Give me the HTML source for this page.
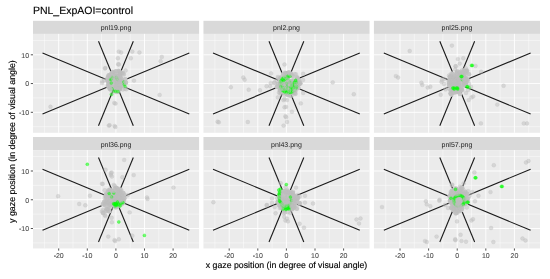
<!DOCTYPE html>
<html><head><meta charset="utf-8"><style>html,body{margin:0;padding:0;background:#fff;width:550px;height:279px;overflow:hidden}svg{display:block;filter:blur(0.3px)}.g{fill:#BEBEBE;fill-opacity:0.47;stroke:#BEBEBE;stroke-opacity:0.47;stroke-width:0.56px}.n{fill:#00FF00;fill-opacity:0.55;stroke:#00FF00;stroke-opacity:0.55;stroke-width:0.56px}.m{fill:#00FF00;fill-opacity:0.42;stroke:#00FF00;stroke-opacity:0.42;stroke-width:0.56px}.b{fill:#D0D0D0}</style></head>
<body><svg width="550" height="279" viewBox="0 0 550 279" font-family="Liberation Sans, Arial, sans-serif" text-rendering="geometricPrecision"><rect x="0" y="0" width="550" height="279" fill="#fff"/>
<text x="32.9" y="14.3" font-size="10.5" fill="#000" stroke="#000" stroke-width="0.12">PNL_ExpAOI=control</text>
<rect x="33" y="20.8" width="166.09" height="13.1" fill="#D9D9D9"/>
<text x="116.05" y="30.3" font-size="7" fill="#1A1A1A" text-anchor="middle">pnl19.png</text>
<rect x="33" y="33.9" width="166.09" height="98.9" fill="#EBEBEB"/>
<line x1="44.4" y1="33.9" x2="44.4" y2="132.8" stroke="#fff" stroke-width="0.45"/>
<line x1="73" y1="33.9" x2="73" y2="132.8" stroke="#fff" stroke-width="0.45"/>
<line x1="101.6" y1="33.9" x2="101.6" y2="132.8" stroke="#fff" stroke-width="0.45"/>
<line x1="130.2" y1="33.9" x2="130.2" y2="132.8" stroke="#fff" stroke-width="0.45"/>
<line x1="158.8" y1="33.9" x2="158.8" y2="132.8" stroke="#fff" stroke-width="0.45"/>
<line x1="187.4" y1="33.9" x2="187.4" y2="132.8" stroke="#fff" stroke-width="0.45"/>
<line x1="33" y1="126.67" x2="199.09" y2="126.67" stroke="#fff" stroke-width="0.45"/>
<line x1="33" y1="97.92" x2="199.09" y2="97.92" stroke="#fff" stroke-width="0.45"/>
<line x1="33" y1="69.17" x2="199.09" y2="69.17" stroke="#fff" stroke-width="0.45"/>
<line x1="33" y1="40.42" x2="199.09" y2="40.42" stroke="#fff" stroke-width="0.45"/>
<line x1="58.7" y1="33.9" x2="58.7" y2="132.8" stroke="#fff" stroke-width="0.9"/>
<line x1="87.3" y1="33.9" x2="87.3" y2="132.8" stroke="#fff" stroke-width="0.9"/>
<line x1="115.9" y1="33.9" x2="115.9" y2="132.8" stroke="#fff" stroke-width="0.9"/>
<line x1="144.5" y1="33.9" x2="144.5" y2="132.8" stroke="#fff" stroke-width="0.9"/>
<line x1="173.1" y1="33.9" x2="173.1" y2="132.8" stroke="#fff" stroke-width="0.9"/>
<line x1="33" y1="112.3" x2="199.09" y2="112.3" stroke="#fff" stroke-width="0.9"/>
<line x1="33" y1="83.55" x2="199.09" y2="83.55" stroke="#fff" stroke-width="0.9"/>
<line x1="33" y1="54.8" x2="199.09" y2="54.8" stroke="#fff" stroke-width="0.9"/>
<line x1="42.51" y1="114.11" x2="189.29" y2="52.99" stroke="#1A1A1A" stroke-width="1.1"/>
<line x1="42.51" y1="52.99" x2="189.29" y2="114.11" stroke="#1A1A1A" stroke-width="1.1"/>
<line x1="98.49" y1="125.81" x2="133.31" y2="41.29" stroke="#1A1A1A" stroke-width="1.1"/>
<line x1="98.49" y1="41.29" x2="133.31" y2="125.81" stroke="#1A1A1A" stroke-width="1.1"/>
<circle class="b" cx="116.22" cy="91.11" r="2.23"/>
<circle class="b" cx="109.81" cy="83.92" r="2.23"/>
<circle class="b" cx="111.39" cy="73.6" r="2.23"/>
<circle class="b" cx="119.52" cy="82.1" r="2.23"/>
<circle class="b" cx="108.16" cy="85.62" r="2.23"/>
<circle class="b" cx="116.53" cy="81.14" r="2.23"/>
<circle class="b" cx="115.31" cy="74.28" r="2.23"/>
<circle class="b" cx="121" cy="79.73" r="2.23"/>
<circle class="b" cx="117.51" cy="80.7" r="2.23"/>
<circle class="b" cx="114.96" cy="81.05" r="2.23"/>
<circle class="b" cx="117.59" cy="87.13" r="2.23"/>
<circle class="b" cx="116.8" cy="83.34" r="2.23"/>
<circle class="b" cx="109.88" cy="81.69" r="2.23"/>
<circle class="b" cx="116.88" cy="85.46" r="2.23"/>
<circle class="b" cx="111.97" cy="82.79" r="2.23"/>
<circle class="b" cx="121.83" cy="82.3" r="2.23"/>
<circle class="b" cx="119.83" cy="75.52" r="2.23"/>
<circle class="b" cx="119.64" cy="89.61" r="2.23"/>
<circle class="b" cx="119.76" cy="84.91" r="2.23"/>
<circle class="b" cx="114.45" cy="72.43" r="2.23"/>
<circle class="b" cx="120.09" cy="74.32" r="2.23"/>
<circle class="b" cx="111.81" cy="78.33" r="2.23"/>
<circle class="b" cx="121.84" cy="73" r="2.23"/>
<circle class="b" cx="109.84" cy="81.26" r="2.23"/>
<circle class="b" cx="116.58" cy="83.54" r="2.23"/>
<circle class="b" cx="108.83" cy="86.54" r="2.23"/>
<circle class="b" cx="119.43" cy="87.64" r="2.23"/>
<circle class="b" cx="112.67" cy="73.3" r="2.23"/>
<circle class="b" cx="110.82" cy="84.02" r="2.23"/>
<circle class="b" cx="107.83" cy="80.99" r="2.23"/>
<circle class="b" cx="110.85" cy="86.43" r="2.23"/>
<circle class="b" cx="123.38" cy="82.92" r="2.23"/>
<circle class="b" cx="124.01" cy="83.81" r="2.23"/>
<circle class="b" cx="119.51" cy="87.55" r="2.23"/>
<circle class="b" cx="107.99" cy="79.12" r="2.23"/>
<circle class="b" cx="117.54" cy="91.64" r="2.23"/>
<circle class="b" cx="109.15" cy="83.62" r="2.23"/>
<circle class="b" cx="111.54" cy="79.8" r="2.23"/>
<circle class="b" cx="117.02" cy="81.34" r="2.23"/>
<circle class="b" cx="120.29" cy="72.7" r="2.23"/>
<circle class="b" cx="115.94" cy="71.16" r="2.23"/>
<circle class="b" cx="118.7" cy="75.3" r="2.23"/>
<circle class="b" cx="109.8" cy="85.19" r="2.23"/>
<circle class="b" cx="118.12" cy="79.6" r="2.23"/>
<circle class="b" cx="113.48" cy="79.94" r="2.23"/>
<circle class="b" cx="109.43" cy="82.24" r="2.23"/>
<circle class="b" cx="113.11" cy="86.91" r="2.23"/>
<circle class="b" cx="109.71" cy="79.66" r="2.23"/>
<circle class="b" cx="108.94" cy="83.74" r="2.23"/>
<circle class="b" cx="116.71" cy="83.32" r="2.23"/>
<circle class="b" cx="119.43" cy="88.04" r="2.23"/>
<circle class="b" cx="119.28" cy="71.76" r="2.23"/>
<circle class="b" cx="120.12" cy="72.52" r="2.23"/>
<circle class="b" cx="123.61" cy="86.01" r="2.23"/>
<circle class="b" cx="117.79" cy="81.63" r="2.23"/>
<circle class="b" cx="116.63" cy="77.33" r="2.23"/>
<circle class="b" cx="114.16" cy="78.93" r="2.23"/>
<circle class="b" cx="121.82" cy="84.23" r="2.23"/>
<circle class="b" cx="119.79" cy="87.18" r="2.23"/>
<circle class="b" cx="115.91" cy="85.96" r="2.23"/>
<circle class="b" cx="108.4" cy="84.11" r="2.23"/>
<circle class="b" cx="114.02" cy="87.11" r="2.23"/>
<circle class="b" cx="115.34" cy="82.61" r="2.23"/>
<circle class="b" cx="118.96" cy="88.1" r="2.23"/>
<circle class="b" cx="118.32" cy="89.1" r="2.23"/>
<circle class="b" cx="119.68" cy="73.69" r="2.23"/>
<circle class="b" cx="117.44" cy="81.64" r="2.23"/>
<circle class="b" cx="115.76" cy="77.37" r="2.23"/>
<circle class="b" cx="115.37" cy="77.27" r="2.23"/>
<circle class="b" cx="113.76" cy="75.29" r="2.23"/>
<circle class="b" cx="121.14" cy="80.71" r="2.23"/>
<circle class="b" cx="107.62" cy="80.48" r="2.23"/>
<circle class="b" cx="117.71" cy="89.34" r="2.23"/>
<circle class="b" cx="110.92" cy="78.33" r="2.23"/>
<circle class="b" cx="112.64" cy="76.93" r="2.23"/>
<circle class="b" cx="120.43" cy="83.17" r="2.23"/>
<circle class="b" cx="119.99" cy="76.77" r="2.23"/>
<circle class="b" cx="109.04" cy="86.27" r="2.23"/>
<circle class="b" cx="121.52" cy="81.79" r="2.23"/>
<circle class="b" cx="117.51" cy="80.44" r="2.23"/>
<circle class="b" cx="125.3" cy="79.16" r="2.23"/>
<circle class="b" cx="120.07" cy="88.82" r="2.23"/>
<circle class="b" cx="108.12" cy="80.99" r="2.23"/>
<circle class="b" cx="112.98" cy="87.05" r="2.23"/>
<circle class="b" cx="118.55" cy="89.42" r="2.23"/>
<circle class="b" cx="118.76" cy="88.3" r="2.23"/>
<circle class="b" cx="114.87" cy="78.43" r="2.23"/>
<circle class="b" cx="114.82" cy="87.7" r="2.23"/>
<circle class="b" cx="120.45" cy="76.97" r="2.23"/>
<circle class="b" cx="125.92" cy="82.68" r="2.23"/>
<circle class="b" cx="117.85" cy="86.17" r="2.23"/>
<circle class="b" cx="117.84" cy="87.73" r="2.23"/>
<circle class="b" cx="112.88" cy="71.96" r="2.23"/>
<circle class="b" cx="115.76" cy="76.23" r="2.23"/>
<circle class="b" cx="117.91" cy="84.3" r="2.23"/>
<circle class="b" cx="119.43" cy="79.48" r="2.23"/>
<circle class="b" cx="109.46" cy="75.86" r="2.23"/>
<circle class="b" cx="110.3" cy="88.94" r="2.23"/>
<circle class="b" cx="114.27" cy="85.35" r="2.23"/>
<circle class="b" cx="109.1" cy="75.27" r="2.23"/>
<circle class="b" cx="120.68" cy="86.73" r="2.23"/>
<circle class="b" cx="119.63" cy="82.36" r="2.23"/>
<circle class="b" cx="118.3" cy="79.28" r="2.23"/>
<circle class="b" cx="118.73" cy="71.47" r="2.23"/>
<circle class="b" cx="112.12" cy="77.25" r="2.23"/>
<circle class="b" cx="110.13" cy="88.25" r="2.23"/>
<circle class="b" cx="113.29" cy="79.82" r="2.23"/>
<circle class="b" cx="116.2" cy="84.63" r="2.23"/>
<circle class="b" cx="107.83" cy="77.41" r="2.23"/>
<circle class="b" cx="121.43" cy="78.74" r="2.23"/>
<circle class="b" cx="117.71" cy="75.86" r="2.23"/>
<circle class="b" cx="125.57" cy="82.28" r="2.23"/>
<circle class="b" cx="115.45" cy="79.38" r="2.23"/>
<circle class="g" cx="122.94" cy="89.47" r="1.95"/>
<circle class="g" cx="116.22" cy="91.11" r="1.95"/>
<circle class="g" cx="109.81" cy="83.92" r="1.95"/>
<circle class="g" cx="111.39" cy="73.6" r="1.95"/>
<circle class="g" cx="119.52" cy="82.1" r="1.95"/>
<circle class="g" cx="108.16" cy="85.62" r="1.95"/>
<circle class="g" cx="116.53" cy="81.14" r="1.95"/>
<circle class="g" cx="115.31" cy="74.28" r="1.95"/>
<circle class="g" cx="121" cy="79.73" r="1.95"/>
<circle class="g" cx="117.51" cy="80.7" r="1.95"/>
<circle class="g" cx="114.96" cy="81.05" r="1.95"/>
<circle class="g" cx="109.39" cy="88.74" r="1.95"/>
<circle class="g" cx="117.59" cy="87.13" r="1.95"/>
<circle class="g" cx="116.8" cy="83.34" r="1.95"/>
<circle class="g" cx="109.88" cy="81.69" r="1.95"/>
<circle class="g" cx="116.88" cy="85.46" r="1.95"/>
<circle class="g" cx="111.97" cy="82.79" r="1.95"/>
<circle class="g" cx="121.83" cy="82.3" r="1.95"/>
<circle class="g" cx="119.83" cy="75.52" r="1.95"/>
<circle class="g" cx="119.64" cy="89.61" r="1.95"/>
<circle class="g" cx="122.85" cy="73.05" r="1.95"/>
<circle class="g" cx="119.76" cy="84.91" r="1.95"/>
<circle class="g" cx="114.45" cy="72.43" r="1.95"/>
<circle class="g" cx="107.96" cy="86.5" r="1.95"/>
<circle class="g" cx="120.09" cy="74.32" r="1.95"/>
<circle class="g" cx="111.81" cy="78.33" r="1.95"/>
<circle class="g" cx="121.84" cy="73" r="1.95"/>
<circle class="g" cx="109.84" cy="81.26" r="1.95"/>
<circle class="g" cx="116.58" cy="83.54" r="1.95"/>
<circle class="g" cx="108.83" cy="86.54" r="1.95"/>
<circle class="g" cx="119.43" cy="87.64" r="1.95"/>
<circle class="g" cx="112.67" cy="73.3" r="1.95"/>
<circle class="g" cx="110.82" cy="84.02" r="1.95"/>
<circle class="g" cx="107.83" cy="80.99" r="1.95"/>
<circle class="g" cx="110.85" cy="86.43" r="1.95"/>
<circle class="g" cx="123.38" cy="82.92" r="1.95"/>
<circle class="g" cx="124.01" cy="83.81" r="1.95"/>
<circle class="g" cx="108.24" cy="75.47" r="1.95"/>
<circle class="g" cx="119.51" cy="87.55" r="1.95"/>
<circle class="g" cx="102.32" cy="81.28" r="1.95"/>
<circle class="g" cx="107.99" cy="79.12" r="1.95"/>
<circle class="g" cx="117.54" cy="91.64" r="1.95"/>
<circle class="g" cx="104.2" cy="80.33" r="1.95"/>
<circle class="g" cx="109.15" cy="83.62" r="1.95"/>
<circle class="g" cx="111.54" cy="79.8" r="1.95"/>
<circle class="g" cx="117.02" cy="81.34" r="1.95"/>
<circle class="g" cx="120.29" cy="72.7" r="1.95"/>
<circle class="g" cx="115.94" cy="71.16" r="1.95"/>
<circle class="g" cx="118.7" cy="75.3" r="1.95"/>
<circle class="g" cx="109.8" cy="85.19" r="1.95"/>
<circle class="g" cx="118.12" cy="79.6" r="1.95"/>
<circle class="g" cx="113.48" cy="79.94" r="1.95"/>
<circle class="g" cx="109.43" cy="82.24" r="1.95"/>
<circle class="g" cx="113.11" cy="86.91" r="1.95"/>
<circle class="g" cx="109.71" cy="79.66" r="1.95"/>
<circle class="g" cx="108.94" cy="83.74" r="1.95"/>
<circle class="g" cx="116.71" cy="83.32" r="1.95"/>
<circle class="g" cx="119.43" cy="88.04" r="1.95"/>
<circle class="g" cx="119.28" cy="71.76" r="1.95"/>
<circle class="g" cx="120.12" cy="72.52" r="1.95"/>
<circle class="g" cx="116.18" cy="92.06" r="1.95"/>
<circle class="g" cx="123.61" cy="86.01" r="1.95"/>
<circle class="g" cx="117.79" cy="81.63" r="1.95"/>
<circle class="g" cx="116.63" cy="77.33" r="1.95"/>
<circle class="g" cx="114.16" cy="78.93" r="1.95"/>
<circle class="g" cx="121.82" cy="84.23" r="1.95"/>
<circle class="g" cx="119.79" cy="87.18" r="1.95"/>
<circle class="g" cx="115.91" cy="85.96" r="1.95"/>
<circle class="g" cx="108.4" cy="84.11" r="1.95"/>
<circle class="g" cx="114.02" cy="87.11" r="1.95"/>
<circle class="g" cx="115.34" cy="82.61" r="1.95"/>
<circle class="g" cx="118.96" cy="88.1" r="1.95"/>
<circle class="g" cx="124.82" cy="88.95" r="1.95"/>
<circle class="g" cx="118.32" cy="89.1" r="1.95"/>
<circle class="g" cx="119.68" cy="73.69" r="1.95"/>
<circle class="g" cx="117.44" cy="81.64" r="1.95"/>
<circle class="g" cx="115.76" cy="77.37" r="1.95"/>
<circle class="g" cx="115.37" cy="77.27" r="1.95"/>
<circle class="g" cx="113.76" cy="75.29" r="1.95"/>
<circle class="g" cx="121.14" cy="80.71" r="1.95"/>
<circle class="g" cx="107.62" cy="80.48" r="1.95"/>
<circle class="g" cx="117.71" cy="89.34" r="1.95"/>
<circle class="g" cx="110.92" cy="78.33" r="1.95"/>
<circle class="g" cx="112.64" cy="76.93" r="1.95"/>
<circle class="g" cx="120.43" cy="83.17" r="1.95"/>
<circle class="g" cx="123.48" cy="73.87" r="1.95"/>
<circle class="g" cx="119.99" cy="76.77" r="1.95"/>
<circle class="g" cx="112.12" cy="93.59" r="1.95"/>
<circle class="g" cx="109.04" cy="86.27" r="1.95"/>
<circle class="g" cx="121.52" cy="81.79" r="1.95"/>
<circle class="g" cx="117.51" cy="80.44" r="1.95"/>
<circle class="g" cx="125.3" cy="79.16" r="1.95"/>
<circle class="g" cx="120.07" cy="88.82" r="1.95"/>
<circle class="g" cx="125.6" cy="70.54" r="1.95"/>
<circle class="g" cx="108.12" cy="80.99" r="1.95"/>
<circle class="g" cx="112.98" cy="87.05" r="1.95"/>
<circle class="g" cx="118.55" cy="89.42" r="1.95"/>
<circle class="g" cx="118.76" cy="88.3" r="1.95"/>
<circle class="g" cx="114.87" cy="78.43" r="1.95"/>
<circle class="g" cx="114.82" cy="87.7" r="1.95"/>
<circle class="g" cx="120.45" cy="76.97" r="1.95"/>
<circle class="m" cx="112" cy="77.4" r="1.5"/>
<circle class="m" cx="116.4" cy="77.4" r="1.5"/>
<circle class="m" cx="117.4" cy="79.2" r="1.5"/>
<circle class="m" cx="111.3" cy="78.9" r="1.5"/>
<circle class="m" cx="111.3" cy="83" r="1.5"/>
<circle class="m" cx="110.6" cy="79.4" r="1.5"/>
<circle class="m" cx="124.3" cy="84.5" r="1.5"/>
<circle class="m" cx="123.8" cy="82" r="1.5"/>
<circle class="m" cx="125.2" cy="86.5" r="1.5"/>
<circle class="m" cx="115.6" cy="91.3" r="1.5"/>
<circle class="m" cx="112" cy="88.8" r="1.5"/>
<circle class="m" cx="111.3" cy="94.5" r="1.5"/>
<circle class="m" cx="113.5" cy="91" r="1.5"/>
<circle class="m" cx="118" cy="91.5" r="1.5"/>
<circle class="g" cx="125.92" cy="82.68" r="1.95"/>
<circle class="g" cx="117.85" cy="86.17" r="1.95"/>
<circle class="g" cx="118.53" cy="70.8" r="1.95"/>
<circle class="g" cx="117.84" cy="87.73" r="1.95"/>
<circle class="g" cx="112.14" cy="72.17" r="1.95"/>
<circle class="g" cx="111.13" cy="90.33" r="1.95"/>
<circle class="g" cx="112.88" cy="71.96" r="1.95"/>
<circle class="g" cx="102.02" cy="83.06" r="1.95"/>
<circle class="g" cx="115.76" cy="76.23" r="1.95"/>
<circle class="g" cx="117.91" cy="84.3" r="1.95"/>
<circle class="g" cx="119.43" cy="79.48" r="1.95"/>
<circle class="g" cx="109.46" cy="75.86" r="1.95"/>
<circle class="g" cx="110.3" cy="88.94" r="1.95"/>
<circle class="g" cx="114.27" cy="85.35" r="1.95"/>
<circle class="g" cx="109.1" cy="75.27" r="1.95"/>
<circle class="g" cx="123.92" cy="74.51" r="1.95"/>
<circle class="g" cx="120.68" cy="86.73" r="1.95"/>
<circle class="g" cx="119.63" cy="82.36" r="1.95"/>
<circle class="g" cx="118.3" cy="79.28" r="1.95"/>
<circle class="g" cx="118.73" cy="71.47" r="1.95"/>
<circle class="g" cx="112.12" cy="77.25" r="1.95"/>
<circle class="g" cx="110.13" cy="88.25" r="1.95"/>
<circle class="g" cx="113.29" cy="79.82" r="1.95"/>
<circle class="g" cx="116.2" cy="84.63" r="1.95"/>
<circle class="g" cx="107.83" cy="77.41" r="1.95"/>
<circle class="g" cx="121.43" cy="78.74" r="1.95"/>
<circle class="g" cx="117.71" cy="75.86" r="1.95"/>
<circle class="g" cx="125.57" cy="82.28" r="1.95"/>
<circle class="g" cx="115.45" cy="79.38" r="1.95"/>
<circle class="g" cx="118.8" cy="51.6" r="1.95"/>
<circle class="g" cx="121.1" cy="52.5" r="1.95"/>
<circle class="g" cx="132.3" cy="51.6" r="1.95"/>
<circle class="g" cx="139.4" cy="52.5" r="1.95"/>
<circle class="g" cx="117.9" cy="58.2" r="1.95"/>
<circle class="g" cx="130.8" cy="58.2" r="1.95"/>
<circle class="g" cx="161.8" cy="56.9" r="1.95"/>
<circle class="g" cx="160.6" cy="61.2" r="1.95"/>
<circle class="g" cx="118.8" cy="64.5" r="1.95"/>
<circle class="g" cx="105.4" cy="68" r="1.95"/>
<circle class="g" cx="134" cy="80.6" r="1.95"/>
<circle class="g" cx="104.9" cy="68.5" r="1.95"/>
<circle class="g" cx="118.2" cy="64.2" r="1.95"/>
<circle class="g" cx="50.5" cy="106.8" r="1.95"/>
<circle class="g" cx="108.8" cy="125.6" r="1.95"/>
<circle class="g" cx="114.6" cy="126.1" r="1.95"/>
<circle class="g" cx="159.6" cy="94.9" r="1.95"/>
<circle class="g" cx="114.3" cy="103" r="1.95"/>
<circle class="g" cx="115.5" cy="103.6" r="1.95"/>
<circle class="g" cx="126.3" cy="89.3" r="1.95"/>
<circle class="g" cx="109.6" cy="125.2" r="1.95"/>
<circle class="g" cx="115.4" cy="127" r="1.95"/>
<line x1="30.81" y1="112.3" x2="33" y2="112.3" stroke="#333" stroke-width="0.85"/>
<text x="29.1" y="115.2" font-size="7" fill="#4D4D4D" stroke="#4D4D4D" stroke-width="0.1" text-anchor="end">-10</text>
<line x1="30.81" y1="83.55" x2="33" y2="83.55" stroke="#333" stroke-width="0.85"/>
<text x="29.1" y="86.45" font-size="7" fill="#4D4D4D" stroke="#4D4D4D" stroke-width="0.1" text-anchor="end">0</text>
<line x1="30.81" y1="54.8" x2="33" y2="54.8" stroke="#333" stroke-width="0.85"/>
<text x="29.1" y="57.7" font-size="7" fill="#4D4D4D" stroke="#4D4D4D" stroke-width="0.1" text-anchor="end">10</text>
<rect x="203.46" y="20.8" width="166.09" height="13.1" fill="#D9D9D9"/>
<text x="286.5" y="30.3" font-size="7" fill="#1A1A1A" text-anchor="middle">pnl2.png</text>
<rect x="203.46" y="33.9" width="166.09" height="98.9" fill="#EBEBEB"/>
<line x1="214.9" y1="33.9" x2="214.9" y2="132.8" stroke="#fff" stroke-width="0.45"/>
<line x1="243.5" y1="33.9" x2="243.5" y2="132.8" stroke="#fff" stroke-width="0.45"/>
<line x1="272.1" y1="33.9" x2="272.1" y2="132.8" stroke="#fff" stroke-width="0.45"/>
<line x1="300.7" y1="33.9" x2="300.7" y2="132.8" stroke="#fff" stroke-width="0.45"/>
<line x1="329.3" y1="33.9" x2="329.3" y2="132.8" stroke="#fff" stroke-width="0.45"/>
<line x1="357.9" y1="33.9" x2="357.9" y2="132.8" stroke="#fff" stroke-width="0.45"/>
<line x1="203.46" y1="126.67" x2="369.55" y2="126.67" stroke="#fff" stroke-width="0.45"/>
<line x1="203.46" y1="97.92" x2="369.55" y2="97.92" stroke="#fff" stroke-width="0.45"/>
<line x1="203.46" y1="69.17" x2="369.55" y2="69.17" stroke="#fff" stroke-width="0.45"/>
<line x1="203.46" y1="40.42" x2="369.55" y2="40.42" stroke="#fff" stroke-width="0.45"/>
<line x1="229.2" y1="33.9" x2="229.2" y2="132.8" stroke="#fff" stroke-width="0.9"/>
<line x1="257.8" y1="33.9" x2="257.8" y2="132.8" stroke="#fff" stroke-width="0.9"/>
<line x1="286.4" y1="33.9" x2="286.4" y2="132.8" stroke="#fff" stroke-width="0.9"/>
<line x1="315" y1="33.9" x2="315" y2="132.8" stroke="#fff" stroke-width="0.9"/>
<line x1="343.6" y1="33.9" x2="343.6" y2="132.8" stroke="#fff" stroke-width="0.9"/>
<line x1="203.46" y1="112.3" x2="369.55" y2="112.3" stroke="#fff" stroke-width="0.9"/>
<line x1="203.46" y1="83.55" x2="369.55" y2="83.55" stroke="#fff" stroke-width="0.9"/>
<line x1="203.46" y1="54.8" x2="369.55" y2="54.8" stroke="#fff" stroke-width="0.9"/>
<line x1="213.01" y1="114.11" x2="359.79" y2="52.99" stroke="#1A1A1A" stroke-width="1.1"/>
<line x1="213.01" y1="52.99" x2="359.79" y2="114.11" stroke="#1A1A1A" stroke-width="1.1"/>
<line x1="268.99" y1="125.81" x2="303.81" y2="41.29" stroke="#1A1A1A" stroke-width="1.1"/>
<line x1="268.99" y1="41.29" x2="303.81" y2="125.81" stroke="#1A1A1A" stroke-width="1.1"/>
<circle class="b" cx="291.04" cy="85.45" r="2.23"/>
<circle class="b" cx="287.5" cy="73.07" r="2.23"/>
<circle class="b" cx="285.93" cy="79.49" r="2.23"/>
<circle class="b" cx="280.94" cy="78.19" r="2.23"/>
<circle class="b" cx="293.65" cy="91.67" r="2.23"/>
<circle class="b" cx="282.88" cy="86.53" r="2.23"/>
<circle class="b" cx="299.04" cy="83.67" r="2.23"/>
<circle class="b" cx="283.89" cy="85.61" r="2.23"/>
<circle class="b" cx="290.82" cy="84.39" r="2.23"/>
<circle class="b" cx="284.97" cy="91.44" r="2.23"/>
<circle class="b" cx="280.15" cy="80.77" r="2.23"/>
<circle class="b" cx="294.46" cy="84.87" r="2.23"/>
<circle class="b" cx="286.97" cy="86.9" r="2.23"/>
<circle class="b" cx="297.36" cy="83.93" r="2.23"/>
<circle class="b" cx="292.73" cy="92.97" r="2.23"/>
<circle class="b" cx="297.18" cy="77.36" r="2.23"/>
<circle class="b" cx="297.35" cy="78.31" r="2.23"/>
<circle class="b" cx="291.18" cy="73.84" r="2.23"/>
<circle class="b" cx="286.16" cy="73.83" r="2.23"/>
<circle class="b" cx="281.1" cy="85.77" r="2.23"/>
<circle class="b" cx="296.23" cy="80.18" r="2.23"/>
<circle class="b" cx="292.8" cy="76.6" r="2.23"/>
<circle class="b" cx="277.09" cy="86.76" r="2.23"/>
<circle class="b" cx="296.7" cy="79.66" r="2.23"/>
<circle class="b" cx="287.33" cy="77.17" r="2.23"/>
<circle class="b" cx="285.86" cy="89.04" r="2.23"/>
<circle class="b" cx="293.72" cy="92.67" r="2.23"/>
<circle class="b" cx="292.6" cy="81.41" r="2.23"/>
<circle class="b" cx="281.01" cy="83.81" r="2.23"/>
<circle class="b" cx="279.98" cy="78.92" r="2.23"/>
<circle class="b" cx="290.31" cy="90.47" r="2.23"/>
<circle class="b" cx="297.21" cy="88.32" r="2.23"/>
<circle class="b" cx="286.81" cy="73.25" r="2.23"/>
<circle class="b" cx="291.88" cy="81.86" r="2.23"/>
<circle class="b" cx="298.48" cy="87.74" r="2.23"/>
<circle class="b" cx="287.05" cy="93.59" r="2.23"/>
<circle class="b" cx="284.5" cy="83.45" r="2.23"/>
<circle class="b" cx="288.87" cy="95.08" r="2.23"/>
<circle class="b" cx="286.84" cy="76.36" r="2.23"/>
<circle class="b" cx="287.06" cy="85.63" r="2.23"/>
<circle class="b" cx="292.87" cy="91.91" r="2.23"/>
<circle class="b" cx="291.93" cy="83.03" r="2.23"/>
<circle class="b" cx="288.25" cy="82.11" r="2.23"/>
<circle class="b" cx="293.22" cy="84.61" r="2.23"/>
<circle class="b" cx="294.66" cy="93.03" r="2.23"/>
<circle class="b" cx="286.59" cy="79.2" r="2.23"/>
<circle class="b" cx="287.11" cy="85.17" r="2.23"/>
<circle class="b" cx="287.18" cy="85.9" r="2.23"/>
<circle class="b" cx="280.85" cy="77.45" r="2.23"/>
<circle class="b" cx="286.33" cy="87.44" r="2.23"/>
<circle class="b" cx="286.44" cy="84.67" r="2.23"/>
<circle class="b" cx="289.52" cy="74.2" r="2.23"/>
<circle class="b" cx="288.92" cy="72.61" r="2.23"/>
<circle class="b" cx="285.31" cy="73.29" r="2.23"/>
<circle class="b" cx="284.13" cy="84.73" r="2.23"/>
<circle class="b" cx="284.42" cy="92.92" r="2.23"/>
<circle class="b" cx="284.75" cy="85.23" r="2.23"/>
<circle class="b" cx="290.79" cy="81.78" r="2.23"/>
<circle class="b" cx="281.08" cy="89.72" r="2.23"/>
<circle class="b" cx="294" cy="90.76" r="2.23"/>
<circle class="b" cx="293.15" cy="82.84" r="2.23"/>
<circle class="b" cx="280.05" cy="88.51" r="2.23"/>
<circle class="b" cx="286.94" cy="83.43" r="2.23"/>
<circle class="b" cx="289.85" cy="85.59" r="2.23"/>
<circle class="b" cx="289.7" cy="85.86" r="2.23"/>
<circle class="b" cx="285.96" cy="81.21" r="2.23"/>
<circle class="b" cx="282.88" cy="85.97" r="2.23"/>
<circle class="b" cx="288.46" cy="92.03" r="2.23"/>
<circle class="b" cx="291.54" cy="74.99" r="2.23"/>
<circle class="b" cx="288.07" cy="94.1" r="2.23"/>
<circle class="b" cx="281.79" cy="87.41" r="2.23"/>
<circle class="b" cx="289.34" cy="84.18" r="2.23"/>
<circle class="b" cx="294.57" cy="88.93" r="2.23"/>
<circle class="b" cx="287.74" cy="79.61" r="2.23"/>
<circle class="b" cx="290.13" cy="87.45" r="2.23"/>
<circle class="b" cx="289.72" cy="89.65" r="2.23"/>
<circle class="b" cx="281.63" cy="83.13" r="2.23"/>
<circle class="b" cx="284.16" cy="78.81" r="2.23"/>
<circle class="b" cx="293.26" cy="80.94" r="2.23"/>
<circle class="b" cx="298.25" cy="81.77" r="2.23"/>
<circle class="b" cx="280.35" cy="83.43" r="2.23"/>
<circle class="b" cx="297.47" cy="86.89" r="2.23"/>
<circle class="b" cx="281.92" cy="87.61" r="2.23"/>
<circle class="b" cx="292.89" cy="86.84" r="2.23"/>
<circle class="b" cx="281.09" cy="92.01" r="2.23"/>
<circle class="b" cx="286.12" cy="93.09" r="2.23"/>
<circle class="b" cx="297.86" cy="85.09" r="2.23"/>
<circle class="b" cx="287.14" cy="87.58" r="2.23"/>
<circle class="b" cx="283.18" cy="74.27" r="2.23"/>
<circle class="b" cx="295.26" cy="84.65" r="2.23"/>
<circle class="b" cx="280.58" cy="84.68" r="2.23"/>
<circle class="b" cx="283.7" cy="81.1" r="2.23"/>
<circle class="b" cx="293.04" cy="86.19" r="2.23"/>
<circle class="b" cx="295.45" cy="81.1" r="2.23"/>
<circle class="b" cx="288.61" cy="80.68" r="2.23"/>
<circle class="b" cx="291.36" cy="91.31" r="2.23"/>
<circle class="b" cx="280.94" cy="85.72" r="2.23"/>
<circle class="b" cx="279.99" cy="90.38" r="2.23"/>
<circle class="b" cx="290.78" cy="86.12" r="2.23"/>
<circle class="b" cx="290.57" cy="81.25" r="2.23"/>
<circle class="b" cx="298.11" cy="81.59" r="2.23"/>
<circle class="b" cx="288.01" cy="82.75" r="2.23"/>
<circle class="b" cx="290.21" cy="74.4" r="2.23"/>
<circle class="b" cx="277.95" cy="84.13" r="2.23"/>
<circle class="b" cx="284.21" cy="89.17" r="2.23"/>
<circle class="b" cx="287.18" cy="94.65" r="2.23"/>
<circle class="b" cx="279.59" cy="85.22" r="2.23"/>
<circle class="b" cx="299.25" cy="80.96" r="2.23"/>
<circle class="b" cx="289.28" cy="90.49" r="2.23"/>
<circle class="b" cx="283.71" cy="84.33" r="2.23"/>
<circle class="b" cx="285.01" cy="76.92" r="2.23"/>
<circle class="b" cx="289.65" cy="81.55" r="2.23"/>
<circle class="b" cx="295.9" cy="83.9" r="2.23"/>
<circle class="b" cx="284.39" cy="86.29" r="2.23"/>
<circle class="b" cx="290.9" cy="85.04" r="2.23"/>
<circle class="b" cx="300.2" cy="83.19" r="2.23"/>
<circle class="b" cx="295.4" cy="90.98" r="2.23"/>
<circle class="b" cx="287.21" cy="88.17" r="2.23"/>
<circle class="b" cx="284.24" cy="75.08" r="2.23"/>
<circle class="b" cx="280.38" cy="82.81" r="2.23"/>
<circle class="b" cx="294.4" cy="88.85" r="2.23"/>
<circle class="b" cx="284.68" cy="83.61" r="2.23"/>
<circle class="b" cx="287.47" cy="79.48" r="2.23"/>
<circle class="b" cx="277.12" cy="86.76" r="2.23"/>
<circle class="b" cx="279.93" cy="89.7" r="2.23"/>
<circle class="b" cx="299.33" cy="83.68" r="2.23"/>
<circle class="b" cx="294.27" cy="91.17" r="2.23"/>
<circle class="b" cx="296.6" cy="85.46" r="2.23"/>
<circle class="b" cx="283.24" cy="83.67" r="2.23"/>
<circle class="b" cx="281.38" cy="88.69" r="2.23"/>
<circle class="g" cx="303" cy="80.02" r="1.95"/>
<circle class="g" cx="291.04" cy="85.45" r="1.95"/>
<circle class="g" cx="287.5" cy="73.07" r="1.95"/>
<circle class="g" cx="285.93" cy="79.49" r="1.95"/>
<circle class="g" cx="280.94" cy="78.19" r="1.95"/>
<circle class="g" cx="293.65" cy="91.67" r="1.95"/>
<circle class="g" cx="282.88" cy="86.53" r="1.95"/>
<circle class="g" cx="299.04" cy="83.67" r="1.95"/>
<circle class="g" cx="276.88" cy="80.8" r="1.95"/>
<circle class="g" cx="283.89" cy="85.61" r="1.95"/>
<circle class="g" cx="290.82" cy="84.39" r="1.95"/>
<circle class="g" cx="284.97" cy="91.44" r="1.95"/>
<circle class="g" cx="278.97" cy="92.66" r="1.95"/>
<circle class="g" cx="280.15" cy="80.77" r="1.95"/>
<circle class="g" cx="294.46" cy="84.87" r="1.95"/>
<circle class="g" cx="286.97" cy="86.9" r="1.95"/>
<circle class="g" cx="297.36" cy="83.93" r="1.95"/>
<circle class="g" cx="292.73" cy="92.97" r="1.95"/>
<circle class="g" cx="297.18" cy="77.36" r="1.95"/>
<circle class="g" cx="297.35" cy="78.31" r="1.95"/>
<circle class="g" cx="291.18" cy="73.84" r="1.95"/>
<circle class="g" cx="277.91" cy="97.42" r="1.95"/>
<circle class="g" cx="294.94" cy="93.98" r="1.95"/>
<circle class="g" cx="286.16" cy="73.83" r="1.95"/>
<circle class="g" cx="281.1" cy="85.77" r="1.95"/>
<circle class="g" cx="296.23" cy="80.18" r="1.95"/>
<circle class="g" cx="292.8" cy="76.6" r="1.95"/>
<circle class="g" cx="280.7" cy="93.87" r="1.95"/>
<circle class="g" cx="277.09" cy="86.76" r="1.95"/>
<circle class="g" cx="296.7" cy="79.66" r="1.95"/>
<circle class="g" cx="287.33" cy="77.17" r="1.95"/>
<circle class="g" cx="285.86" cy="89.04" r="1.95"/>
<circle class="g" cx="293.72" cy="92.67" r="1.95"/>
<circle class="g" cx="292.6" cy="81.41" r="1.95"/>
<circle class="g" cx="284.17" cy="94.66" r="1.95"/>
<circle class="g" cx="285.2" cy="72.7" r="1.95"/>
<circle class="g" cx="281.01" cy="83.81" r="1.95"/>
<circle class="g" cx="279.98" cy="78.92" r="1.95"/>
<circle class="g" cx="290.31" cy="90.47" r="1.95"/>
<circle class="g" cx="274.08" cy="82.96" r="1.95"/>
<circle class="g" cx="297.21" cy="88.32" r="1.95"/>
<circle class="g" cx="286.81" cy="73.25" r="1.95"/>
<circle class="g" cx="291.88" cy="81.86" r="1.95"/>
<circle class="g" cx="298.48" cy="87.74" r="1.95"/>
<circle class="g" cx="287.05" cy="93.59" r="1.95"/>
<circle class="g" cx="290.35" cy="96.12" r="1.95"/>
<circle class="g" cx="284.5" cy="83.45" r="1.95"/>
<circle class="g" cx="288.87" cy="95.08" r="1.95"/>
<circle class="g" cx="291.64" cy="95.99" r="1.95"/>
<circle class="g" cx="286.84" cy="76.36" r="1.95"/>
<circle class="g" cx="287.06" cy="85.63" r="1.95"/>
<circle class="g" cx="292.87" cy="91.91" r="1.95"/>
<circle class="g" cx="291.93" cy="83.03" r="1.95"/>
<circle class="g" cx="288.25" cy="82.11" r="1.95"/>
<circle class="g" cx="293.22" cy="84.61" r="1.95"/>
<circle class="g" cx="294.66" cy="93.03" r="1.95"/>
<circle class="g" cx="286.59" cy="79.2" r="1.95"/>
<circle class="g" cx="287.11" cy="85.17" r="1.95"/>
<circle class="g" cx="295.66" cy="93.72" r="1.95"/>
<circle class="g" cx="287.18" cy="85.9" r="1.95"/>
<circle class="g" cx="280.85" cy="77.45" r="1.95"/>
<circle class="g" cx="286.33" cy="87.44" r="1.95"/>
<circle class="g" cx="286.44" cy="84.67" r="1.95"/>
<circle class="g" cx="289.52" cy="74.2" r="1.95"/>
<circle class="g" cx="288.92" cy="72.61" r="1.95"/>
<circle class="g" cx="285.31" cy="73.29" r="1.95"/>
<circle class="g" cx="284.13" cy="84.73" r="1.95"/>
<circle class="g" cx="284.42" cy="92.92" r="1.95"/>
<circle class="g" cx="284.75" cy="85.23" r="1.95"/>
<circle class="g" cx="290.79" cy="81.78" r="1.95"/>
<circle class="g" cx="281.08" cy="89.72" r="1.95"/>
<circle class="g" cx="294" cy="90.76" r="1.95"/>
<circle class="g" cx="293.15" cy="82.84" r="1.95"/>
<circle class="g" cx="280.05" cy="88.51" r="1.95"/>
<circle class="g" cx="286.94" cy="83.43" r="1.95"/>
<circle class="g" cx="289.85" cy="85.59" r="1.95"/>
<circle class="g" cx="289.7" cy="85.86" r="1.95"/>
<circle class="g" cx="285.96" cy="81.21" r="1.95"/>
<circle class="g" cx="270.76" cy="83.11" r="1.95"/>
<circle class="g" cx="300.48" cy="83.6" r="1.95"/>
<circle class="g" cx="282.88" cy="85.97" r="1.95"/>
<circle class="g" cx="288.46" cy="92.03" r="1.95"/>
<circle class="g" cx="291.54" cy="74.99" r="1.95"/>
<circle class="g" cx="288.07" cy="94.1" r="1.95"/>
<circle class="g" cx="281.79" cy="87.41" r="1.95"/>
<circle class="g" cx="289.34" cy="84.18" r="1.95"/>
<circle class="g" cx="294.57" cy="88.93" r="1.95"/>
<circle class="g" cx="287.74" cy="79.61" r="1.95"/>
<circle class="g" cx="290.13" cy="87.45" r="1.95"/>
<circle class="g" cx="289.72" cy="89.65" r="1.95"/>
<circle class="g" cx="281.63" cy="83.13" r="1.95"/>
<circle class="g" cx="284.16" cy="78.81" r="1.95"/>
<circle class="g" cx="293.26" cy="80.94" r="1.95"/>
<circle class="g" cx="298.25" cy="81.77" r="1.95"/>
<circle class="g" cx="280.35" cy="83.43" r="1.95"/>
<circle class="g" cx="297.47" cy="86.89" r="1.95"/>
<circle class="g" cx="281.92" cy="87.61" r="1.95"/>
<circle class="g" cx="292.89" cy="86.84" r="1.95"/>
<circle class="g" cx="281.09" cy="92.01" r="1.95"/>
<circle class="g" cx="274.62" cy="82.37" r="1.95"/>
<circle class="g" cx="286.12" cy="93.09" r="1.95"/>
<circle class="g" cx="279.96" cy="92.56" r="1.95"/>
<circle class="g" cx="297.86" cy="85.09" r="1.95"/>
<circle class="g" cx="287.14" cy="87.58" r="1.95"/>
<circle class="g" cx="283.18" cy="74.27" r="1.95"/>
<circle class="g" cx="295.26" cy="84.65" r="1.95"/>
<circle class="g" cx="280.58" cy="84.68" r="1.95"/>
<circle class="g" cx="283.7" cy="81.1" r="1.95"/>
<circle class="g" cx="293.04" cy="86.19" r="1.95"/>
<circle class="g" cx="295.45" cy="81.1" r="1.95"/>
<circle class="g" cx="288.61" cy="80.68" r="1.95"/>
<circle class="g" cx="291.36" cy="91.31" r="1.95"/>
<circle class="g" cx="280.94" cy="85.72" r="1.95"/>
<circle class="g" cx="279.99" cy="90.38" r="1.95"/>
<circle class="g" cx="290.78" cy="86.12" r="1.95"/>
<circle class="g" cx="290.57" cy="81.25" r="1.95"/>
<circle class="g" cx="298.11" cy="81.59" r="1.95"/>
<circle class="n" cx="289.94" cy="76.33" r="1.5"/>
<circle class="n" cx="287.81" cy="76.23" r="1.5"/>
<circle class="n" cx="285.73" cy="76.68" r="1.5"/>
<circle class="n" cx="283.82" cy="77.64" r="1.5"/>
<circle class="n" cx="282.23" cy="79.06" r="1.5"/>
<circle class="n" cx="281.05" cy="80.84" r="1.5"/>
<circle class="n" cx="280.36" cy="82.86" r="1.5"/>
<circle class="n" cx="280.21" cy="84.98" r="1.5"/>
<circle class="n" cx="280.61" cy="87.08" r="1.5"/>
<circle class="n" cx="281.53" cy="89" r="1.5"/>
<circle class="n" cx="282.91" cy="90.63" r="1.5"/>
<circle class="n" cx="284.65" cy="91.85" r="1.5"/>
<circle class="n" cx="286.65" cy="92.59" r="1.5"/>
<circle class="n" cx="288.78" cy="92.8" r="1.5"/>
<circle class="n" cx="290.88" cy="92.45" r="1.5"/>
<circle class="n" cx="292.83" cy="91.58" r="1.5"/>
<circle class="n" cx="294.49" cy="90.25" r="1.5"/>
<circle class="n" cx="295.76" cy="88.53" r="1.5"/>
<circle class="n" cx="296.54" cy="86.55" r="1.5"/>
<circle class="n" cx="296.8" cy="84.43" r="1.5"/>
<circle class="n" cx="296.51" cy="82.32" r="1.5"/>
<circle class="n" cx="295.69" cy="80.35" r="1.5"/>
<circle class="n" cx="287.41" cy="78.3" r="1.5"/>
<circle class="n" cx="285.48" cy="78.97" r="1.5"/>
<circle class="n" cx="283.87" cy="80.23" r="1.5"/>
<circle class="n" cx="282.74" cy="81.94" r="1.5"/>
<circle class="n" cx="282.23" cy="83.91" r="1.5"/>
<circle class="n" cx="282.37" cy="85.95" r="1.5"/>
<circle class="n" cx="283.16" cy="87.84" r="1.5"/>
<circle class="n" cx="284.51" cy="89.37" r="1.5"/>
<circle class="n" cx="286.28" cy="90.39" r="1.5"/>
<circle class="n" cx="288.28" cy="90.8" r="1.5"/>
<circle class="n" cx="290.31" cy="90.54" r="1.5"/>
<circle class="n" cx="292.14" cy="89.64" r="1.5"/>
<circle class="n" cx="293.6" cy="88.2" r="1.5"/>
<circle class="n" cx="294.51" cy="86.38" r="1.5"/>
<circle class="n" cx="294.8" cy="84.35" r="1.5"/>
<circle class="n" cx="294.42" cy="82.35" r="1.5"/>
<circle class="n" cx="292" cy="85" r="1.5"/>
<circle class="n" cx="289.78" cy="82.1" r="1.5"/>
<circle class="n" cx="286.4" cy="83.5" r="1.5"/>
<circle class="n" cx="286.88" cy="87.12" r="1.5"/>
<circle class="n" cx="290.5" cy="87.6" r="1.5"/>
<circle class="g" cx="288.01" cy="82.75" r="1.95"/>
<circle class="g" cx="290.21" cy="74.4" r="1.95"/>
<circle class="g" cx="277.95" cy="84.13" r="1.95"/>
<circle class="g" cx="284.21" cy="89.17" r="1.95"/>
<circle class="g" cx="287.18" cy="94.65" r="1.95"/>
<circle class="g" cx="279.59" cy="85.22" r="1.95"/>
<circle class="g" cx="299.25" cy="80.96" r="1.95"/>
<circle class="g" cx="294.66" cy="74.07" r="1.95"/>
<circle class="g" cx="289.28" cy="90.49" r="1.95"/>
<circle class="g" cx="283.71" cy="84.33" r="1.95"/>
<circle class="g" cx="285.01" cy="76.92" r="1.95"/>
<circle class="g" cx="278.3" cy="78.09" r="1.95"/>
<circle class="g" cx="289.65" cy="81.55" r="1.95"/>
<circle class="g" cx="295.9" cy="83.9" r="1.95"/>
<circle class="g" cx="284.39" cy="86.29" r="1.95"/>
<circle class="g" cx="290.9" cy="85.04" r="1.95"/>
<circle class="g" cx="300.2" cy="83.19" r="1.95"/>
<circle class="g" cx="295.4" cy="90.98" r="1.95"/>
<circle class="g" cx="287.21" cy="88.17" r="1.95"/>
<circle class="g" cx="284.24" cy="75.08" r="1.95"/>
<circle class="g" cx="280.38" cy="82.81" r="1.95"/>
<circle class="g" cx="294.4" cy="88.85" r="1.95"/>
<circle class="g" cx="288.94" cy="72.31" r="1.95"/>
<circle class="g" cx="284.68" cy="83.61" r="1.95"/>
<circle class="g" cx="287.47" cy="79.48" r="1.95"/>
<circle class="g" cx="277.12" cy="86.76" r="1.95"/>
<circle class="g" cx="279.93" cy="89.7" r="1.95"/>
<circle class="g" cx="299.33" cy="83.68" r="1.95"/>
<circle class="g" cx="294.27" cy="91.17" r="1.95"/>
<circle class="g" cx="296.6" cy="85.46" r="1.95"/>
<circle class="g" cx="277.91" cy="77.02" r="1.95"/>
<circle class="g" cx="283.24" cy="83.67" r="1.95"/>
<circle class="g" cx="281.38" cy="88.69" r="1.95"/>
<circle class="g" cx="243.3" cy="77.5" r="1.95"/>
<circle class="g" cx="244.6" cy="79.7" r="1.95"/>
<circle class="g" cx="271.1" cy="73.4" r="1.95"/>
<circle class="g" cx="284.5" cy="64.5" r="1.95"/>
<circle class="g" cx="303.2" cy="73.8" r="1.95"/>
<circle class="g" cx="332.7" cy="82.4" r="1.95"/>
<circle class="g" cx="296" cy="74.3" r="1.95"/>
<circle class="g" cx="230.8" cy="87.2" r="1.95"/>
<circle class="g" cx="248.7" cy="89.7" r="1.95"/>
<circle class="g" cx="260" cy="90.3" r="1.95"/>
<circle class="g" cx="266.6" cy="86.2" r="1.95"/>
<circle class="g" cx="270.2" cy="86.2" r="1.95"/>
<circle class="g" cx="217.6" cy="121.7" r="1.95"/>
<circle class="g" cx="218.8" cy="122.3" r="1.95"/>
<circle class="g" cx="247.8" cy="122" r="1.95"/>
<circle class="g" cx="284.5" cy="99.2" r="1.95"/>
<circle class="g" cx="284.5" cy="107.3" r="1.95"/>
<circle class="g" cx="285.4" cy="116.3" r="1.95"/>
<circle class="g" cx="283.6" cy="125.6" r="1.95"/>
<circle class="g" cx="283.4" cy="100.1" r="1.95"/>
<circle class="g" cx="287" cy="100.1" r="1.95"/>
<circle class="g" cx="286.1" cy="106.9" r="1.95"/>
<circle class="g" cx="291.9" cy="111.8" r="1.95"/>
<circle class="g" cx="286.1" cy="117.2" r="1.95"/>
<circle class="g" cx="287" cy="122" r="1.95"/>
<circle class="g" cx="300.8" cy="103.4" r="1.95"/>
<circle class="g" cx="303.2" cy="93" r="1.95"/>
<circle class="g" cx="353.8" cy="94.2" r="1.95"/>
<rect x="373.92" y="20.8" width="166.09" height="13.1" fill="#D9D9D9"/>
<text x="456.97" y="30.3" font-size="7" fill="#1A1A1A" text-anchor="middle">pnl25.png</text>
<rect x="373.92" y="33.9" width="166.09" height="98.9" fill="#EBEBEB"/>
<line x1="385.72" y1="33.9" x2="385.72" y2="132.8" stroke="#fff" stroke-width="0.45"/>
<line x1="414.32" y1="33.9" x2="414.32" y2="132.8" stroke="#fff" stroke-width="0.45"/>
<line x1="442.92" y1="33.9" x2="442.92" y2="132.8" stroke="#fff" stroke-width="0.45"/>
<line x1="471.52" y1="33.9" x2="471.52" y2="132.8" stroke="#fff" stroke-width="0.45"/>
<line x1="500.12" y1="33.9" x2="500.12" y2="132.8" stroke="#fff" stroke-width="0.45"/>
<line x1="528.72" y1="33.9" x2="528.72" y2="132.8" stroke="#fff" stroke-width="0.45"/>
<line x1="373.92" y1="126.67" x2="540.01" y2="126.67" stroke="#fff" stroke-width="0.45"/>
<line x1="373.92" y1="97.92" x2="540.01" y2="97.92" stroke="#fff" stroke-width="0.45"/>
<line x1="373.92" y1="69.17" x2="540.01" y2="69.17" stroke="#fff" stroke-width="0.45"/>
<line x1="373.92" y1="40.42" x2="540.01" y2="40.42" stroke="#fff" stroke-width="0.45"/>
<line x1="400.02" y1="33.9" x2="400.02" y2="132.8" stroke="#fff" stroke-width="0.9"/>
<line x1="428.62" y1="33.9" x2="428.62" y2="132.8" stroke="#fff" stroke-width="0.9"/>
<line x1="457.22" y1="33.9" x2="457.22" y2="132.8" stroke="#fff" stroke-width="0.9"/>
<line x1="485.82" y1="33.9" x2="485.82" y2="132.8" stroke="#fff" stroke-width="0.9"/>
<line x1="514.42" y1="33.9" x2="514.42" y2="132.8" stroke="#fff" stroke-width="0.9"/>
<line x1="373.92" y1="112.3" x2="540.01" y2="112.3" stroke="#fff" stroke-width="0.9"/>
<line x1="373.92" y1="83.55" x2="540.01" y2="83.55" stroke="#fff" stroke-width="0.9"/>
<line x1="373.92" y1="54.8" x2="540.01" y2="54.8" stroke="#fff" stroke-width="0.9"/>
<line x1="383.83" y1="114.11" x2="530.61" y2="52.99" stroke="#1A1A1A" stroke-width="1.1"/>
<line x1="383.83" y1="52.99" x2="530.61" y2="114.11" stroke="#1A1A1A" stroke-width="1.1"/>
<line x1="439.81" y1="125.81" x2="474.63" y2="41.29" stroke="#1A1A1A" stroke-width="1.1"/>
<line x1="439.81" y1="41.29" x2="474.63" y2="125.81" stroke="#1A1A1A" stroke-width="1.1"/>
<circle class="b" cx="457.93" cy="88.38" r="2.23"/>
<circle class="b" cx="453.15" cy="77.44" r="2.23"/>
<circle class="b" cx="464.02" cy="84.98" r="2.23"/>
<circle class="b" cx="457.95" cy="87.07" r="2.23"/>
<circle class="b" cx="460.15" cy="76.14" r="2.23"/>
<circle class="b" cx="461.71" cy="88.63" r="2.23"/>
<circle class="b" cx="462.34" cy="75.04" r="2.23"/>
<circle class="b" cx="450.18" cy="80.19" r="2.23"/>
<circle class="b" cx="464.29" cy="85.03" r="2.23"/>
<circle class="b" cx="450.91" cy="76.31" r="2.23"/>
<circle class="b" cx="457.14" cy="82.81" r="2.23"/>
<circle class="b" cx="449.25" cy="83.24" r="2.23"/>
<circle class="b" cx="463.02" cy="75.07" r="2.23"/>
<circle class="b" cx="459.28" cy="74.94" r="2.23"/>
<circle class="b" cx="463.02" cy="78.61" r="2.23"/>
<circle class="b" cx="458.98" cy="79.78" r="2.23"/>
<circle class="b" cx="458.18" cy="85.47" r="2.23"/>
<circle class="b" cx="454.84" cy="78.17" r="2.23"/>
<circle class="b" cx="452.67" cy="86.65" r="2.23"/>
<circle class="b" cx="452.91" cy="78.18" r="2.23"/>
<circle class="b" cx="464.2" cy="77.58" r="2.23"/>
<circle class="b" cx="465.82" cy="80.92" r="2.23"/>
<circle class="b" cx="456.23" cy="78.61" r="2.23"/>
<circle class="b" cx="465.64" cy="79.25" r="2.23"/>
<circle class="b" cx="456.8" cy="77.81" r="2.23"/>
<circle class="b" cx="450.15" cy="77.03" r="2.23"/>
<circle class="b" cx="461.93" cy="83.78" r="2.23"/>
<circle class="b" cx="458.34" cy="78.39" r="2.23"/>
<circle class="b" cx="460.87" cy="87.22" r="2.23"/>
<circle class="b" cx="455.4" cy="90.56" r="2.23"/>
<circle class="b" cx="465.59" cy="84.32" r="2.23"/>
<circle class="b" cx="464.28" cy="83.9" r="2.23"/>
<circle class="b" cx="456.71" cy="76.67" r="2.23"/>
<circle class="b" cx="465.88" cy="80.25" r="2.23"/>
<circle class="b" cx="463.9" cy="81.43" r="2.23"/>
<circle class="b" cx="456.84" cy="83.55" r="2.23"/>
<circle class="b" cx="464.33" cy="83.17" r="2.23"/>
<circle class="b" cx="454.15" cy="84.17" r="2.23"/>
<circle class="b" cx="455.48" cy="79.45" r="2.23"/>
<circle class="b" cx="458.75" cy="79.83" r="2.23"/>
<circle class="b" cx="462.37" cy="79.92" r="2.23"/>
<circle class="b" cx="460.99" cy="78.26" r="2.23"/>
<circle class="b" cx="451.44" cy="80.56" r="2.23"/>
<circle class="b" cx="451.54" cy="76.51" r="2.23"/>
<circle class="b" cx="451.67" cy="78.72" r="2.23"/>
<circle class="b" cx="456.4" cy="74.4" r="2.23"/>
<circle class="b" cx="457.8" cy="86.14" r="2.23"/>
<circle class="b" cx="464.15" cy="82.09" r="2.23"/>
<circle class="b" cx="452.39" cy="85.18" r="2.23"/>
<circle class="b" cx="456.55" cy="80.46" r="2.23"/>
<circle class="b" cx="464.15" cy="84.72" r="2.23"/>
<circle class="b" cx="453.99" cy="77.08" r="2.23"/>
<circle class="b" cx="453.04" cy="88.75" r="2.23"/>
<circle class="b" cx="456.93" cy="72.28" r="2.23"/>
<circle class="b" cx="459.08" cy="81.77" r="2.23"/>
<circle class="b" cx="464.7" cy="79.43" r="2.23"/>
<circle class="b" cx="453.16" cy="82.99" r="2.23"/>
<circle class="b" cx="454.2" cy="78.84" r="2.23"/>
<circle class="b" cx="455.42" cy="87.63" r="2.23"/>
<circle class="b" cx="452.99" cy="77.72" r="2.23"/>
<circle class="b" cx="456.14" cy="86.59" r="2.23"/>
<circle class="b" cx="465.3" cy="83.13" r="2.23"/>
<circle class="b" cx="456.87" cy="73.24" r="2.23"/>
<circle class="b" cx="456.32" cy="85.13" r="2.23"/>
<circle class="b" cx="458.07" cy="91.34" r="2.23"/>
<circle class="b" cx="453.92" cy="83.38" r="2.23"/>
<circle class="b" cx="456.83" cy="79.09" r="2.23"/>
<circle class="b" cx="454.93" cy="86.9" r="2.23"/>
<circle class="b" cx="449.89" cy="85.29" r="2.23"/>
<circle class="b" cx="459.19" cy="78.86" r="2.23"/>
<circle class="b" cx="454.44" cy="76.33" r="2.23"/>
<circle class="b" cx="449.43" cy="84.63" r="2.23"/>
<circle class="b" cx="457.86" cy="84.26" r="2.23"/>
<circle class="b" cx="459.88" cy="88.96" r="2.23"/>
<circle class="b" cx="461.77" cy="73.11" r="2.23"/>
<circle class="b" cx="458.97" cy="85.56" r="2.23"/>
<circle class="b" cx="452.42" cy="73.81" r="2.23"/>
<circle class="b" cx="452.95" cy="89.66" r="2.23"/>
<circle class="b" cx="460.06" cy="84.83" r="2.23"/>
<circle class="b" cx="456.44" cy="91.21" r="2.23"/>
<circle class="b" cx="452.91" cy="84.73" r="2.23"/>
<circle class="b" cx="453.46" cy="84.23" r="2.23"/>
<circle class="b" cx="458.08" cy="81.24" r="2.23"/>
<circle class="b" cx="463.14" cy="79.27" r="2.23"/>
<circle class="b" cx="450.22" cy="80.43" r="2.23"/>
<circle class="b" cx="454.88" cy="86.47" r="2.23"/>
<circle class="b" cx="457.74" cy="83.54" r="2.23"/>
<circle class="b" cx="455.91" cy="89.71" r="2.23"/>
<circle class="b" cx="465.28" cy="84.27" r="2.23"/>
<circle class="b" cx="463.19" cy="76.68" r="2.23"/>
<circle class="b" cx="449.94" cy="76.65" r="2.23"/>
<circle class="b" cx="464.92" cy="82.25" r="2.23"/>
<circle class="b" cx="456.35" cy="85.84" r="2.23"/>
<circle class="b" cx="450.26" cy="80.1" r="2.23"/>
<circle class="b" cx="453.68" cy="88.73" r="2.23"/>
<circle class="b" cx="460.42" cy="77.28" r="2.23"/>
<circle class="b" cx="449.72" cy="82.87" r="2.23"/>
<circle class="b" cx="459.23" cy="87.67" r="2.23"/>
<circle class="b" cx="460.18" cy="74.16" r="2.23"/>
<circle class="b" cx="461.28" cy="90.07" r="2.23"/>
<circle class="b" cx="465.66" cy="81.97" r="2.23"/>
<circle class="b" cx="457.23" cy="83.94" r="2.23"/>
<circle class="b" cx="452.9" cy="80.53" r="2.23"/>
<circle class="b" cx="452.99" cy="84.4" r="2.23"/>
<circle class="b" cx="465.43" cy="81.61" r="2.23"/>
<circle class="b" cx="458.97" cy="83.34" r="2.23"/>
<circle class="b" cx="458.7" cy="82.96" r="2.23"/>
<circle class="b" cx="454.86" cy="81.46" r="2.23"/>
<circle class="b" cx="455.93" cy="85.88" r="2.23"/>
<circle class="b" cx="454.28" cy="76.3" r="2.23"/>
<circle class="b" cx="453.08" cy="87.96" r="2.23"/>
<circle class="b" cx="458.95" cy="86.08" r="2.23"/>
<circle class="b" cx="463.74" cy="80.55" r="2.23"/>
<circle class="b" cx="466.9" cy="71.97" r="2.23"/>
<circle class="b" cx="464.32" cy="78.57" r="2.23"/>
<circle class="b" cx="465.29" cy="77.71" r="2.23"/>
<circle class="b" cx="467.51" cy="79.75" r="2.23"/>
<circle class="b" cx="464.98" cy="80.26" r="2.23"/>
<circle class="b" cx="463.12" cy="79.06" r="2.23"/>
<circle class="b" cx="459.73" cy="72.54" r="2.23"/>
<circle class="b" cx="463.88" cy="76.71" r="2.23"/>
<circle class="b" cx="465.86" cy="70.93" r="2.23"/>
<circle class="b" cx="463.82" cy="70.55" r="2.23"/>
<circle class="b" cx="469.06" cy="74.33" r="2.23"/>
<circle class="b" cx="465.79" cy="73.54" r="2.23"/>
<circle class="b" cx="464.13" cy="71.82" r="2.23"/>
<circle class="b" cx="461.08" cy="74.75" r="2.23"/>
<circle class="b" cx="460.73" cy="77.55" r="2.23"/>
<circle class="b" cx="466.49" cy="78.26" r="2.23"/>
<circle class="b" cx="466.27" cy="71.14" r="2.23"/>
<circle class="b" cx="463.96" cy="71.53" r="2.23"/>
<circle class="b" cx="466.99" cy="79.38" r="2.23"/>
<circle class="b" cx="465.78" cy="79.58" r="2.23"/>
<circle class="b" cx="461.33" cy="75.62" r="2.23"/>
<circle class="b" cx="463.93" cy="79.33" r="2.23"/>
<circle class="b" cx="459.9" cy="93.89" r="2.23"/>
<circle class="b" cx="450.9" cy="93.42" r="2.23"/>
<circle class="b" cx="453.44" cy="91.8" r="2.23"/>
<circle class="b" cx="452.53" cy="92.6" r="2.23"/>
<circle class="b" cx="452.29" cy="92.52" r="2.23"/>
<circle class="b" cx="456.26" cy="92.13" r="2.23"/>
<circle class="b" cx="450.55" cy="93.6" r="2.23"/>
<circle class="b" cx="454.57" cy="89.15" r="2.23"/>
<circle class="b" cx="454.35" cy="92.53" r="2.23"/>
<circle class="b" cx="450.5" cy="90.12" r="2.23"/>
<circle class="b" cx="451.47" cy="89.76" r="2.23"/>
<circle class="b" cx="457.8" cy="91.65" r="2.23"/>
<circle class="b" cx="451.45" cy="94.56" r="2.23"/>
<circle class="b" cx="452.58" cy="89.44" r="2.23"/>
<circle class="g" cx="457.93" cy="88.38" r="1.95"/>
<circle class="g" cx="453.15" cy="77.44" r="1.95"/>
<circle class="g" cx="464.02" cy="84.98" r="1.95"/>
<circle class="g" cx="466.05" cy="82.37" r="1.95"/>
<circle class="g" cx="457.95" cy="87.07" r="1.95"/>
<circle class="g" cx="448.68" cy="83.54" r="1.95"/>
<circle class="g" cx="460.15" cy="76.14" r="1.95"/>
<circle class="g" cx="461.71" cy="88.63" r="1.95"/>
<circle class="g" cx="462.34" cy="75.04" r="1.95"/>
<circle class="g" cx="450.18" cy="80.19" r="1.95"/>
<circle class="g" cx="464.29" cy="85.03" r="1.95"/>
<circle class="g" cx="450.91" cy="76.31" r="1.95"/>
<circle class="g" cx="457.14" cy="82.81" r="1.95"/>
<circle class="g" cx="449.25" cy="83.24" r="1.95"/>
<circle class="g" cx="463.02" cy="75.07" r="1.95"/>
<circle class="g" cx="455.23" cy="69.42" r="1.95"/>
<circle class="g" cx="459.28" cy="74.94" r="1.95"/>
<circle class="g" cx="463.02" cy="78.61" r="1.95"/>
<circle class="g" cx="458.98" cy="79.78" r="1.95"/>
<circle class="g" cx="458.18" cy="85.47" r="1.95"/>
<circle class="g" cx="449.36" cy="85.72" r="1.95"/>
<circle class="g" cx="454.84" cy="78.17" r="1.95"/>
<circle class="g" cx="452.67" cy="86.65" r="1.95"/>
<circle class="g" cx="452.91" cy="78.18" r="1.95"/>
<circle class="g" cx="449.09" cy="75.48" r="1.95"/>
<circle class="g" cx="464.2" cy="77.58" r="1.95"/>
<circle class="g" cx="465.82" cy="80.92" r="1.95"/>
<circle class="g" cx="456.23" cy="78.61" r="1.95"/>
<circle class="g" cx="465.64" cy="79.25" r="1.95"/>
<circle class="g" cx="449.73" cy="77.1" r="1.95"/>
<circle class="g" cx="456.8" cy="77.81" r="1.95"/>
<circle class="g" cx="450.15" cy="77.03" r="1.95"/>
<circle class="g" cx="461.93" cy="83.78" r="1.95"/>
<circle class="g" cx="465.78" cy="68.27" r="1.95"/>
<circle class="g" cx="458.34" cy="78.39" r="1.95"/>
<circle class="g" cx="460.87" cy="87.22" r="1.95"/>
<circle class="g" cx="455.4" cy="90.56" r="1.95"/>
<circle class="g" cx="465.59" cy="84.32" r="1.95"/>
<circle class="g" cx="464.28" cy="83.9" r="1.95"/>
<circle class="g" cx="456.71" cy="76.67" r="1.95"/>
<circle class="g" cx="465.88" cy="80.25" r="1.95"/>
<circle class="g" cx="463.9" cy="81.43" r="1.95"/>
<circle class="g" cx="456.84" cy="83.55" r="1.95"/>
<circle class="g" cx="464.33" cy="83.17" r="1.95"/>
<circle class="g" cx="454.15" cy="84.17" r="1.95"/>
<circle class="g" cx="455.48" cy="79.45" r="1.95"/>
<circle class="g" cx="458.75" cy="79.83" r="1.95"/>
<circle class="g" cx="462.37" cy="79.92" r="1.95"/>
<circle class="g" cx="460.99" cy="78.26" r="1.95"/>
<circle class="g" cx="451.44" cy="80.56" r="1.95"/>
<circle class="g" cx="451.54" cy="76.51" r="1.95"/>
<circle class="g" cx="451.67" cy="78.72" r="1.95"/>
<circle class="g" cx="448.78" cy="81.03" r="1.95"/>
<circle class="g" cx="456.4" cy="74.4" r="1.95"/>
<circle class="g" cx="457.8" cy="86.14" r="1.95"/>
<circle class="g" cx="448.68" cy="80.06" r="1.95"/>
<circle class="g" cx="464.15" cy="82.09" r="1.95"/>
<circle class="g" cx="452.39" cy="85.18" r="1.95"/>
<circle class="g" cx="456.55" cy="80.46" r="1.95"/>
<circle class="g" cx="464.15" cy="84.72" r="1.95"/>
<circle class="g" cx="453.99" cy="77.08" r="1.95"/>
<circle class="g" cx="453.04" cy="88.75" r="1.95"/>
<circle class="g" cx="456.93" cy="72.28" r="1.95"/>
<circle class="g" cx="459.08" cy="81.77" r="1.95"/>
<circle class="g" cx="464.7" cy="79.43" r="1.95"/>
<circle class="g" cx="453.16" cy="82.99" r="1.95"/>
<circle class="g" cx="454.2" cy="78.84" r="1.95"/>
<circle class="g" cx="455.42" cy="87.63" r="1.95"/>
<circle class="g" cx="452.99" cy="77.72" r="1.95"/>
<circle class="g" cx="456.14" cy="86.59" r="1.95"/>
<circle class="g" cx="465.3" cy="83.13" r="1.95"/>
<circle class="g" cx="456.87" cy="73.24" r="1.95"/>
<circle class="g" cx="456.32" cy="85.13" r="1.95"/>
<circle class="g" cx="458.07" cy="91.34" r="1.95"/>
<circle class="g" cx="453.92" cy="83.38" r="1.95"/>
<circle class="g" cx="456.83" cy="79.09" r="1.95"/>
<circle class="g" cx="454.93" cy="86.9" r="1.95"/>
<circle class="g" cx="449.89" cy="85.29" r="1.95"/>
<circle class="g" cx="459.19" cy="78.86" r="1.95"/>
<circle class="g" cx="454.44" cy="76.33" r="1.95"/>
<circle class="g" cx="449.43" cy="84.63" r="1.95"/>
<circle class="g" cx="457.86" cy="84.26" r="1.95"/>
<circle class="g" cx="459.88" cy="88.96" r="1.95"/>
<circle class="g" cx="461.77" cy="73.11" r="1.95"/>
<circle class="g" cx="458.97" cy="85.56" r="1.95"/>
<circle class="g" cx="452.42" cy="73.81" r="1.95"/>
<circle class="g" cx="452.95" cy="89.66" r="1.95"/>
<circle class="g" cx="460.06" cy="84.83" r="1.95"/>
<circle class="g" cx="456.44" cy="91.21" r="1.95"/>
<circle class="g" cx="452.91" cy="84.73" r="1.95"/>
<circle class="g" cx="453.46" cy="84.23" r="1.95"/>
<circle class="g" cx="462.31" cy="90.27" r="1.95"/>
<circle class="g" cx="458.08" cy="81.24" r="1.95"/>
<circle class="g" cx="467.16" cy="70.41" r="1.95"/>
<circle class="g" cx="463.14" cy="79.27" r="1.95"/>
<circle class="g" cx="459.01" cy="91.93" r="1.95"/>
<circle class="g" cx="457.26" cy="71.03" r="1.95"/>
<circle class="g" cx="450.22" cy="80.43" r="1.95"/>
<circle class="g" cx="454.88" cy="86.47" r="1.95"/>
<circle class="g" cx="457.74" cy="83.54" r="1.95"/>
<circle class="g" cx="455.91" cy="89.71" r="1.95"/>
<circle class="g" cx="465.28" cy="84.27" r="1.95"/>
<circle class="g" cx="463.19" cy="76.68" r="1.95"/>
<circle class="g" cx="464.39" cy="75.1" r="1.95"/>
<circle class="g" cx="449.94" cy="76.65" r="1.95"/>
<circle class="g" cx="464.92" cy="82.25" r="1.95"/>
<circle class="g" cx="456.35" cy="85.84" r="1.95"/>
<circle class="g" cx="450.26" cy="80.1" r="1.95"/>
<circle class="g" cx="448.38" cy="88.21" r="1.95"/>
<circle class="g" cx="453.68" cy="88.73" r="1.95"/>
<circle class="g" cx="460.42" cy="77.28" r="1.95"/>
<circle class="g" cx="449.72" cy="82.87" r="1.95"/>
<circle class="g" cx="459.23" cy="87.67" r="1.95"/>
<circle class="g" cx="460.18" cy="74.16" r="1.95"/>
<circle class="g" cx="461.28" cy="90.07" r="1.95"/>
<circle class="g" cx="460.48" cy="71.59" r="1.95"/>
<circle class="g" cx="465.66" cy="81.97" r="1.95"/>
<circle class="g" cx="451.31" cy="73.58" r="1.95"/>
<circle class="g" cx="457.23" cy="83.94" r="1.95"/>
<circle class="g" cx="452.9" cy="80.53" r="1.95"/>
<circle class="g" cx="452.99" cy="84.4" r="1.95"/>
<circle class="g" cx="465.43" cy="81.61" r="1.95"/>
<circle class="g" cx="458.97" cy="83.34" r="1.95"/>
<circle class="g" cx="458.7" cy="82.96" r="1.95"/>
<circle class="g" cx="462.92" cy="72.9" r="1.95"/>
<circle class="g" cx="454.86" cy="81.46" r="1.95"/>
<circle class="g" cx="455.93" cy="85.88" r="1.95"/>
<circle class="g" cx="454.28" cy="76.3" r="1.95"/>
<circle class="g" cx="453.08" cy="87.96" r="1.95"/>
<circle class="g" cx="458.95" cy="86.08" r="1.95"/>
<circle class="g" cx="463.74" cy="80.55" r="1.95"/>
<circle class="g" cx="466.9" cy="71.97" r="1.95"/>
<circle class="n" cx="462.3" cy="79.5" r="1.5"/>
<circle class="n" cx="469.5" cy="87.8" r="1.5"/>
<circle class="g" cx="464.32" cy="78.57" r="1.95"/>
<circle class="g" cx="465.29" cy="77.71" r="1.95"/>
<circle class="g" cx="467.51" cy="79.75" r="1.95"/>
<circle class="g" cx="464.98" cy="80.26" r="1.95"/>
<circle class="g" cx="463.12" cy="79.06" r="1.95"/>
<circle class="g" cx="459.73" cy="72.54" r="1.95"/>
<circle class="g" cx="463.88" cy="76.71" r="1.95"/>
<circle class="g" cx="467.67" cy="80.84" r="1.95"/>
<circle class="g" cx="465.86" cy="70.93" r="1.95"/>
<circle class="g" cx="463.82" cy="70.55" r="1.95"/>
<circle class="g" cx="469.06" cy="74.33" r="1.95"/>
<circle class="g" cx="465.79" cy="73.54" r="1.95"/>
<circle class="g" cx="464.13" cy="71.82" r="1.95"/>
<circle class="g" cx="461.08" cy="74.75" r="1.95"/>
<circle class="g" cx="460.73" cy="77.55" r="1.95"/>
<circle class="g" cx="466.49" cy="78.26" r="1.95"/>
<circle class="g" cx="466.27" cy="71.14" r="1.95"/>
<circle class="g" cx="461.84" cy="70.45" r="1.95"/>
<circle class="g" cx="463.96" cy="71.53" r="1.95"/>
<circle class="g" cx="466.99" cy="79.38" r="1.95"/>
<circle class="g" cx="465.78" cy="79.58" r="1.95"/>
<circle class="g" cx="461.33" cy="75.62" r="1.95"/>
<circle class="g" cx="463.93" cy="79.33" r="1.95"/>
<circle class="g" cx="461.51" cy="89.78" r="1.95"/>
<circle class="g" cx="459.9" cy="93.89" r="1.95"/>
<circle class="g" cx="450.9" cy="93.42" r="1.95"/>
<circle class="g" cx="453.44" cy="91.8" r="1.95"/>
<circle class="g" cx="452.53" cy="92.6" r="1.95"/>
<circle class="g" cx="452.29" cy="92.52" r="1.95"/>
<circle class="g" cx="456.26" cy="92.13" r="1.95"/>
<circle class="g" cx="450.55" cy="93.6" r="1.95"/>
<circle class="g" cx="454.57" cy="89.15" r="1.95"/>
<circle class="g" cx="454.35" cy="92.53" r="1.95"/>
<circle class="g" cx="450.5" cy="90.12" r="1.95"/>
<circle class="g" cx="451.47" cy="89.76" r="1.95"/>
<circle class="g" cx="457.8" cy="91.65" r="1.95"/>
<circle class="g" cx="451.45" cy="94.56" r="1.95"/>
<circle class="g" cx="452.58" cy="89.44" r="1.95"/>
<circle class="g" cx="451.9" cy="45.6" r="1.95"/>
<circle class="g" cx="409.7" cy="51" r="1.95"/>
<circle class="g" cx="395.9" cy="76.1" r="1.95"/>
<circle class="g" cx="398.1" cy="77.5" r="1.95"/>
<circle class="g" cx="421.4" cy="82.7" r="1.95"/>
<circle class="g" cx="455.4" cy="66.3" r="1.95"/>
<circle class="g" cx="463.3" cy="58.2" r="1.95"/>
<circle class="g" cx="457.9" cy="59.1" r="1.95"/>
<circle class="g" cx="459.7" cy="63.6" r="1.95"/>
<circle class="g" cx="456.1" cy="66.3" r="1.95"/>
<circle class="g" cx="475.5" cy="65.9" r="1.95"/>
<circle class="g" cx="466.9" cy="70.7" r="1.95"/>
<circle class="g" cx="481.2" cy="71.6" r="1.95"/>
<circle class="g" cx="422.3" cy="84.9" r="1.95"/>
<circle class="g" cx="427.7" cy="87.6" r="1.95"/>
<circle class="g" cx="430.3" cy="86.7" r="1.95"/>
<circle class="g" cx="440.7" cy="94.8" r="1.95"/>
<circle class="g" cx="445.6" cy="89.4" r="1.95"/>
<circle class="g" cx="471.4" cy="97.4" r="1.95"/>
<circle class="g" cx="473.2" cy="96.5" r="1.95"/>
<circle class="g" cx="468.7" cy="100.1" r="1.95"/>
<circle class="g" cx="497.3" cy="104.6" r="1.95"/>
<circle class="g" cx="503.6" cy="85.8" r="1.95"/>
<circle class="g" cx="480.9" cy="123.4" r="1.95"/>
<circle class="g" cx="523.8" cy="123.4" r="1.95"/>
<circle class="g" cx="527" cy="123.4" r="1.95"/>
<circle class="g" cx="441.5" cy="82" r="1.95"/>
<circle class="g" cx="444" cy="79" r="1.95"/>
<circle class="g" cx="469" cy="84" r="1.95"/>
<circle class="g" cx="471" cy="87" r="1.95"/>
<circle class="g" cx="468" cy="90" r="1.95"/>
<circle class="g" cx="466" cy="93" r="1.95"/>
<circle class="g" cx="442" cy="80" r="1.95"/>
<circle class="g" cx="444" cy="84" r="1.95"/>
<circle class="n" cx="471.5" cy="65.4" r="1.5"/>
<circle class="n" cx="472.3" cy="65.4" r="1.5"/>
<circle class="n" cx="452.8" cy="88.1" r="1.5"/>
<circle class="n" cx="454.2" cy="89.1" r="1.5"/>
<circle class="n" cx="454" cy="88" r="1.5"/>
<circle class="n" cx="456.3" cy="88.1" r="1.5"/>
<circle class="n" cx="457.7" cy="89.1" r="1.5"/>
<circle class="n" cx="457.5" cy="88" r="1.5"/>
<circle class="n" cx="461.1" cy="76.5" r="1.5"/>
<circle class="n" cx="461.9" cy="76.5" r="1.5"/>
<circle class="n" cx="466.9" cy="86.8" r="1.5"/>
<circle class="n" cx="467.7" cy="86.8" r="1.5"/>
<rect x="33" y="137" width="166.09" height="13.1" fill="#D9D9D9"/>
<text x="116.05" y="146.5" font-size="7" fill="#1A1A1A" text-anchor="middle">pnl36.png</text>
<rect x="33" y="150.1" width="166.09" height="98.35" fill="#EBEBEB"/>
<line x1="44.4" y1="150.1" x2="44.4" y2="248.45" stroke="#fff" stroke-width="0.45"/>
<line x1="73" y1="150.1" x2="73" y2="248.45" stroke="#fff" stroke-width="0.45"/>
<line x1="101.6" y1="150.1" x2="101.6" y2="248.45" stroke="#fff" stroke-width="0.45"/>
<line x1="130.2" y1="150.1" x2="130.2" y2="248.45" stroke="#fff" stroke-width="0.45"/>
<line x1="158.8" y1="150.1" x2="158.8" y2="248.45" stroke="#fff" stroke-width="0.45"/>
<line x1="187.4" y1="150.1" x2="187.4" y2="248.45" stroke="#fff" stroke-width="0.45"/>
<line x1="33" y1="242.88" x2="199.09" y2="242.88" stroke="#fff" stroke-width="0.45"/>
<line x1="33" y1="214.12" x2="199.09" y2="214.12" stroke="#fff" stroke-width="0.45"/>
<line x1="33" y1="185.38" x2="199.09" y2="185.38" stroke="#fff" stroke-width="0.45"/>
<line x1="33" y1="156.62" x2="199.09" y2="156.62" stroke="#fff" stroke-width="0.45"/>
<line x1="58.7" y1="150.1" x2="58.7" y2="248.45" stroke="#fff" stroke-width="0.9"/>
<line x1="87.3" y1="150.1" x2="87.3" y2="248.45" stroke="#fff" stroke-width="0.9"/>
<line x1="115.9" y1="150.1" x2="115.9" y2="248.45" stroke="#fff" stroke-width="0.9"/>
<line x1="144.5" y1="150.1" x2="144.5" y2="248.45" stroke="#fff" stroke-width="0.9"/>
<line x1="173.1" y1="150.1" x2="173.1" y2="248.45" stroke="#fff" stroke-width="0.9"/>
<line x1="33" y1="228.5" x2="199.09" y2="228.5" stroke="#fff" stroke-width="0.9"/>
<line x1="33" y1="199.75" x2="199.09" y2="199.75" stroke="#fff" stroke-width="0.9"/>
<line x1="33" y1="171" x2="199.09" y2="171" stroke="#fff" stroke-width="0.9"/>
<line x1="42.51" y1="230.31" x2="189.29" y2="169.19" stroke="#1A1A1A" stroke-width="1.1"/>
<line x1="42.51" y1="169.19" x2="189.29" y2="230.31" stroke="#1A1A1A" stroke-width="1.1"/>
<line x1="98.49" y1="242.01" x2="133.31" y2="157.49" stroke="#1A1A1A" stroke-width="1.1"/>
<line x1="98.49" y1="157.49" x2="133.31" y2="242.01" stroke="#1A1A1A" stroke-width="1.1"/>
<circle class="b" cx="115.2" cy="199.82" r="2.23"/>
<circle class="b" cx="118.54" cy="202.7" r="2.23"/>
<circle class="b" cx="112.9" cy="198.99" r="2.23"/>
<circle class="b" cx="122.81" cy="193.07" r="2.23"/>
<circle class="b" cx="116.53" cy="206.11" r="2.23"/>
<circle class="b" cx="113.78" cy="204.72" r="2.23"/>
<circle class="b" cx="116.11" cy="199.59" r="2.23"/>
<circle class="b" cx="119.16" cy="195.46" r="2.23"/>
<circle class="b" cx="118.17" cy="188.97" r="2.23"/>
<circle class="b" cx="116.02" cy="194.38" r="2.23"/>
<circle class="b" cx="111.11" cy="193.52" r="2.23"/>
<circle class="b" cx="120.23" cy="190.73" r="2.23"/>
<circle class="b" cx="116.55" cy="196.04" r="2.23"/>
<circle class="b" cx="111.32" cy="190.64" r="2.23"/>
<circle class="b" cx="118.12" cy="203.89" r="2.23"/>
<circle class="b" cx="112.87" cy="197.86" r="2.23"/>
<circle class="b" cx="112.7" cy="204.53" r="2.23"/>
<circle class="b" cx="120.48" cy="193.97" r="2.23"/>
<circle class="b" cx="120.43" cy="189.83" r="2.23"/>
<circle class="b" cx="108.89" cy="201.17" r="2.23"/>
<circle class="b" cx="110.68" cy="194.41" r="2.23"/>
<circle class="b" cx="113.64" cy="201.28" r="2.23"/>
<circle class="b" cx="123.68" cy="199.92" r="2.23"/>
<circle class="b" cx="121.72" cy="199.51" r="2.23"/>
<circle class="b" cx="109.83" cy="196.36" r="2.23"/>
<circle class="b" cx="111.22" cy="203.23" r="2.23"/>
<circle class="b" cx="118.3" cy="197.44" r="2.23"/>
<circle class="b" cx="116.88" cy="203.64" r="2.23"/>
<circle class="b" cx="113.69" cy="205.35" r="2.23"/>
<circle class="b" cx="109.89" cy="204.02" r="2.23"/>
<circle class="b" cx="109.72" cy="195.46" r="2.23"/>
<circle class="b" cx="118.34" cy="198.86" r="2.23"/>
<circle class="b" cx="108.45" cy="191.7" r="2.23"/>
<circle class="b" cx="112.62" cy="201.75" r="2.23"/>
<circle class="b" cx="117.44" cy="202.48" r="2.23"/>
<circle class="b" cx="114.33" cy="195.54" r="2.23"/>
<circle class="b" cx="124.09" cy="194.84" r="2.23"/>
<circle class="b" cx="114.67" cy="198.81" r="2.23"/>
<circle class="b" cx="118.26" cy="190.33" r="2.23"/>
<circle class="b" cx="116.95" cy="202.55" r="2.23"/>
<circle class="b" cx="112.46" cy="198.43" r="2.23"/>
<circle class="b" cx="121" cy="196.03" r="2.23"/>
<circle class="b" cx="120.75" cy="197.84" r="2.23"/>
<circle class="b" cx="117.93" cy="198.35" r="2.23"/>
<circle class="b" cx="109.24" cy="204.22" r="2.23"/>
<circle class="b" cx="119.42" cy="200.59" r="2.23"/>
<circle class="b" cx="120.22" cy="196.9" r="2.23"/>
<circle class="b" cx="119.25" cy="199.16" r="2.23"/>
<circle class="b" cx="116.15" cy="199.55" r="2.23"/>
<circle class="b" cx="113.74" cy="194.95" r="2.23"/>
<circle class="b" cx="112.98" cy="197.62" r="2.23"/>
<circle class="b" cx="119.99" cy="197.43" r="2.23"/>
<circle class="b" cx="119.41" cy="201.76" r="2.23"/>
<circle class="b" cx="107.59" cy="202.25" r="2.23"/>
<circle class="b" cx="115.26" cy="202.63" r="2.23"/>
<circle class="b" cx="113.31" cy="198.41" r="2.23"/>
<circle class="b" cx="118.83" cy="194.31" r="2.23"/>
<circle class="b" cx="117.86" cy="192.37" r="2.23"/>
<circle class="b" cx="114.95" cy="199.28" r="2.23"/>
<circle class="b" cx="116.28" cy="202.25" r="2.23"/>
<circle class="b" cx="118.57" cy="198.69" r="2.23"/>
<circle class="b" cx="120.07" cy="197.2" r="2.23"/>
<circle class="b" cx="109.61" cy="189.68" r="2.23"/>
<circle class="b" cx="114.71" cy="188.61" r="2.23"/>
<circle class="b" cx="112.79" cy="197.58" r="2.23"/>
<circle class="b" cx="118.22" cy="194.23" r="2.23"/>
<circle class="b" cx="123.44" cy="193.17" r="2.23"/>
<circle class="b" cx="111.21" cy="203.76" r="2.23"/>
<circle class="b" cx="109.41" cy="190.52" r="2.23"/>
<circle class="b" cx="106.11" cy="195.92" r="2.23"/>
<circle class="b" cx="110.71" cy="191.21" r="2.23"/>
<circle class="b" cx="119.58" cy="195.08" r="2.23"/>
<circle class="b" cx="122.86" cy="199.76" r="2.23"/>
<circle class="b" cx="121.59" cy="204.31" r="2.23"/>
<circle class="b" cx="122.27" cy="196.04" r="2.23"/>
<circle class="b" cx="116.22" cy="199.63" r="2.23"/>
<circle class="b" cx="107.77" cy="194.14" r="2.23"/>
<circle class="b" cx="119.67" cy="197.6" r="2.23"/>
<circle class="b" cx="116.77" cy="195.76" r="2.23"/>
<circle class="b" cx="116.85" cy="188.69" r="2.23"/>
<circle class="b" cx="106.1" cy="194.57" r="2.23"/>
<circle class="b" cx="117.43" cy="195.18" r="2.23"/>
<circle class="b" cx="111.02" cy="204.66" r="2.23"/>
<circle class="b" cx="116.39" cy="188.16" r="2.23"/>
<circle class="b" cx="108.98" cy="198.59" r="2.23"/>
<circle class="b" cx="116.59" cy="197.85" r="2.23"/>
<circle class="b" cx="107.31" cy="198.04" r="2.23"/>
<circle class="b" cx="119.52" cy="192.36" r="2.23"/>
<circle class="b" cx="112.58" cy="200.33" r="2.23"/>
<circle class="b" cx="106.33" cy="196.24" r="2.23"/>
<circle class="b" cx="122.83" cy="202.14" r="2.23"/>
<circle class="b" cx="109.59" cy="202.51" r="2.23"/>
<circle class="b" cx="116" cy="193.3" r="2.23"/>
<circle class="b" cx="110.18" cy="197.9" r="2.23"/>
<circle class="b" cx="120.24" cy="202.09" r="2.23"/>
<circle class="b" cx="105.62" cy="196.76" r="2.23"/>
<circle class="b" cx="119.13" cy="192.37" r="2.23"/>
<circle class="b" cx="115.31" cy="195.66" r="2.23"/>
<circle class="b" cx="118.13" cy="206.35" r="2.23"/>
<circle class="b" cx="117.84" cy="192.79" r="2.23"/>
<circle class="b" cx="107.09" cy="201.69" r="2.23"/>
<circle class="b" cx="117.88" cy="194.59" r="2.23"/>
<circle class="b" cx="117.48" cy="200.89" r="2.23"/>
<circle class="b" cx="110.46" cy="197.66" r="2.23"/>
<circle class="b" cx="121.06" cy="193.33" r="2.23"/>
<circle class="b" cx="123.42" cy="197.79" r="2.23"/>
<circle class="b" cx="112.62" cy="203.31" r="2.23"/>
<circle class="b" cx="113.5" cy="190.69" r="2.23"/>
<circle class="b" cx="121.19" cy="200.69" r="2.23"/>
<circle class="b" cx="115.62" cy="191.56" r="2.23"/>
<circle class="b" cx="111.95" cy="191.36" r="2.23"/>
<circle class="b" cx="119.78" cy="194.58" r="2.23"/>
<circle class="b" cx="120.8" cy="193.89" r="2.23"/>
<circle class="b" cx="109.05" cy="210.87" r="2.23"/>
<circle class="b" cx="109.76" cy="204.64" r="2.23"/>
<circle class="b" cx="105.91" cy="211.16" r="2.23"/>
<circle class="b" cx="105.63" cy="201.17" r="2.23"/>
<circle class="b" cx="104.89" cy="202.97" r="2.23"/>
<circle class="b" cx="106.54" cy="202.04" r="2.23"/>
<circle class="b" cx="107.31" cy="208.93" r="2.23"/>
<circle class="b" cx="103.02" cy="212.91" r="2.23"/>
<circle class="b" cx="106.85" cy="203.15" r="2.23"/>
<circle class="b" cx="105.04" cy="205.32" r="2.23"/>
<circle class="b" cx="104.09" cy="201.91" r="2.23"/>
<circle class="b" cx="104.82" cy="204.35" r="2.23"/>
<circle class="b" cx="107.62" cy="209.53" r="2.23"/>
<circle class="b" cx="106.41" cy="209.21" r="2.23"/>
<circle class="b" cx="108.68" cy="206.74" r="2.23"/>
<circle class="b" cx="108.71" cy="202.52" r="2.23"/>
<circle class="b" cx="109.17" cy="211.28" r="2.23"/>
<circle class="b" cx="103" cy="203.99" r="2.23"/>
<circle class="b" cx="107.76" cy="208.91" r="2.23"/>
<circle class="g" cx="115.2" cy="199.82" r="1.95"/>
<circle class="g" cx="118.54" cy="202.7" r="1.95"/>
<circle class="g" cx="112.9" cy="198.99" r="1.95"/>
<circle class="g" cx="122.81" cy="193.07" r="1.95"/>
<circle class="g" cx="116.53" cy="206.11" r="1.95"/>
<circle class="g" cx="113.78" cy="204.72" r="1.95"/>
<circle class="g" cx="116.11" cy="199.59" r="1.95"/>
<circle class="g" cx="119.16" cy="195.46" r="1.95"/>
<circle class="g" cx="118.17" cy="188.97" r="1.95"/>
<circle class="g" cx="116.02" cy="194.38" r="1.95"/>
<circle class="g" cx="111.11" cy="193.52" r="1.95"/>
<circle class="g" cx="120.23" cy="190.73" r="1.95"/>
<circle class="g" cx="116.55" cy="196.04" r="1.95"/>
<circle class="g" cx="111.32" cy="190.64" r="1.95"/>
<circle class="g" cx="118.12" cy="203.89" r="1.95"/>
<circle class="g" cx="112.87" cy="197.86" r="1.95"/>
<circle class="g" cx="121.42" cy="190.27" r="1.95"/>
<circle class="g" cx="112.7" cy="204.53" r="1.95"/>
<circle class="g" cx="120.48" cy="193.97" r="1.95"/>
<circle class="g" cx="120.43" cy="189.83" r="1.95"/>
<circle class="g" cx="108.89" cy="201.17" r="1.95"/>
<circle class="g" cx="110.68" cy="194.41" r="1.95"/>
<circle class="g" cx="113.64" cy="201.28" r="1.95"/>
<circle class="g" cx="123.68" cy="199.92" r="1.95"/>
<circle class="g" cx="121.72" cy="199.51" r="1.95"/>
<circle class="g" cx="109.83" cy="196.36" r="1.95"/>
<circle class="g" cx="111.22" cy="203.23" r="1.95"/>
<circle class="g" cx="118.3" cy="197.44" r="1.95"/>
<circle class="g" cx="116.88" cy="203.64" r="1.95"/>
<circle class="g" cx="113.69" cy="205.35" r="1.95"/>
<circle class="g" cx="109.89" cy="204.02" r="1.95"/>
<circle class="g" cx="109.72" cy="195.46" r="1.95"/>
<circle class="g" cx="122.66" cy="203.14" r="1.95"/>
<circle class="g" cx="118.34" cy="198.86" r="1.95"/>
<circle class="g" cx="108.45" cy="191.7" r="1.95"/>
<circle class="g" cx="112.62" cy="201.75" r="1.95"/>
<circle class="g" cx="117.44" cy="202.48" r="1.95"/>
<circle class="g" cx="114.33" cy="195.54" r="1.95"/>
<circle class="g" cx="124.09" cy="194.84" r="1.95"/>
<circle class="g" cx="113.8" cy="184.88" r="1.95"/>
<circle class="g" cx="114.67" cy="198.81" r="1.95"/>
<circle class="g" cx="116.55" cy="187.79" r="1.95"/>
<circle class="g" cx="104.87" cy="203.89" r="1.95"/>
<circle class="g" cx="118.26" cy="190.33" r="1.95"/>
<circle class="g" cx="116.95" cy="202.55" r="1.95"/>
<circle class="g" cx="112.46" cy="198.43" r="1.95"/>
<circle class="g" cx="121" cy="196.03" r="1.95"/>
<circle class="g" cx="120.75" cy="197.84" r="1.95"/>
<circle class="g" cx="117.93" cy="198.35" r="1.95"/>
<circle class="g" cx="109.24" cy="204.22" r="1.95"/>
<circle class="g" cx="119.42" cy="200.59" r="1.95"/>
<circle class="g" cx="120.22" cy="196.9" r="1.95"/>
<circle class="g" cx="119.25" cy="199.16" r="1.95"/>
<circle class="g" cx="116.15" cy="199.55" r="1.95"/>
<circle class="g" cx="113.74" cy="194.95" r="1.95"/>
<circle class="g" cx="112.98" cy="197.62" r="1.95"/>
<circle class="g" cx="119.99" cy="197.43" r="1.95"/>
<circle class="g" cx="119.41" cy="201.76" r="1.95"/>
<circle class="g" cx="107.59" cy="202.25" r="1.95"/>
<circle class="g" cx="105.16" cy="198.88" r="1.95"/>
<circle class="g" cx="115.26" cy="202.63" r="1.95"/>
<circle class="g" cx="113.31" cy="198.41" r="1.95"/>
<circle class="g" cx="118.83" cy="194.31" r="1.95"/>
<circle class="g" cx="117.86" cy="192.37" r="1.95"/>
<circle class="g" cx="114.95" cy="199.28" r="1.95"/>
<circle class="g" cx="116.28" cy="202.25" r="1.95"/>
<circle class="g" cx="116.17" cy="207.53" r="1.95"/>
<circle class="g" cx="118.57" cy="198.69" r="1.95"/>
<circle class="g" cx="106.17" cy="193.65" r="1.95"/>
<circle class="g" cx="120.07" cy="197.2" r="1.95"/>
<circle class="g" cx="109.61" cy="189.68" r="1.95"/>
<circle class="g" cx="114.71" cy="188.61" r="1.95"/>
<circle class="g" cx="112.79" cy="197.58" r="1.95"/>
<circle class="g" cx="118.22" cy="194.23" r="1.95"/>
<circle class="g" cx="123.44" cy="193.17" r="1.95"/>
<circle class="g" cx="111.21" cy="203.76" r="1.95"/>
<circle class="g" cx="109.41" cy="190.52" r="1.95"/>
<circle class="g" cx="106.11" cy="195.92" r="1.95"/>
<circle class="g" cx="110.71" cy="191.21" r="1.95"/>
<circle class="g" cx="119.58" cy="195.08" r="1.95"/>
<circle class="g" cx="123.73" cy="201.91" r="1.95"/>
<circle class="g" cx="127.57" cy="195.19" r="1.95"/>
<circle class="g" cx="122.86" cy="199.76" r="1.95"/>
<circle class="g" cx="121.59" cy="204.31" r="1.95"/>
<circle class="g" cx="122.27" cy="196.04" r="1.95"/>
<circle class="g" cx="116.22" cy="199.63" r="1.95"/>
<circle class="g" cx="107.77" cy="194.14" r="1.95"/>
<circle class="g" cx="114.75" cy="186.05" r="1.95"/>
<circle class="g" cx="119.67" cy="197.6" r="1.95"/>
<circle class="g" cx="124.57" cy="198.29" r="1.95"/>
<circle class="g" cx="116.77" cy="195.76" r="1.95"/>
<circle class="g" cx="116.85" cy="188.69" r="1.95"/>
<circle class="g" cx="106.1" cy="194.57" r="1.95"/>
<circle class="g" cx="117.43" cy="195.18" r="1.95"/>
<circle class="g" cx="111.02" cy="204.66" r="1.95"/>
<circle class="g" cx="116.39" cy="188.16" r="1.95"/>
<circle class="g" cx="108.98" cy="198.59" r="1.95"/>
<circle class="g" cx="116.59" cy="197.85" r="1.95"/>
<circle class="g" cx="107.31" cy="198.04" r="1.95"/>
<circle class="g" cx="119.52" cy="192.36" r="1.95"/>
<circle class="g" cx="112.58" cy="200.33" r="1.95"/>
<circle class="g" cx="106.33" cy="196.24" r="1.95"/>
<circle class="g" cx="124.51" cy="198.13" r="1.95"/>
<circle class="g" cx="122.83" cy="202.14" r="1.95"/>
<circle class="g" cx="109.59" cy="202.51" r="1.95"/>
<circle class="g" cx="116" cy="193.3" r="1.95"/>
<circle class="g" cx="110.18" cy="197.9" r="1.95"/>
<circle class="g" cx="123.13" cy="203.03" r="1.95"/>
<circle class="g" cx="120.24" cy="202.09" r="1.95"/>
<circle class="g" cx="105.62" cy="196.76" r="1.95"/>
<circle class="g" cx="119.13" cy="192.37" r="1.95"/>
<circle class="g" cx="115.31" cy="195.66" r="1.95"/>
<circle class="g" cx="118.13" cy="206.35" r="1.95"/>
<circle class="g" cx="117.84" cy="192.79" r="1.95"/>
<circle class="g" cx="107.09" cy="201.69" r="1.95"/>
<circle class="g" cx="117.88" cy="194.59" r="1.95"/>
<circle class="g" cx="117.48" cy="200.89" r="1.95"/>
<circle class="n" cx="87.3" cy="164.3" r="1.5"/>
<circle class="n" cx="118.8" cy="221.9" r="1.5"/>
<circle class="n" cx="144.4" cy="235.4" r="1.5"/>
<circle class="n" cx="109.2" cy="193.5" r="1.5"/>
<circle class="n" cx="113.8" cy="192.9" r="1.5"/>
<circle class="n" cx="122.9" cy="202.6" r="1.5"/>
<circle class="n" cx="111.5" cy="196.9" r="1.5"/>
<circle class="n" cx="113.5" cy="203.5" r="1.5"/>
<circle class="n" cx="116" cy="205.5" r="1.5"/>
<circle class="n" cx="118.5" cy="204" r="1.5"/>
<circle class="n" cx="121" cy="203.5" r="1.5"/>
<circle class="n" cx="117.5" cy="202" r="1.5"/>
<circle class="n" cx="115" cy="206.5" r="1.5"/>
<circle class="n" cx="120" cy="206" r="1.5"/>
<circle class="g" cx="110.46" cy="197.66" r="1.95"/>
<circle class="g" cx="121.06" cy="193.33" r="1.95"/>
<circle class="g" cx="123.42" cy="197.79" r="1.95"/>
<circle class="g" cx="112.62" cy="203.31" r="1.95"/>
<circle class="g" cx="113.5" cy="190.69" r="1.95"/>
<circle class="g" cx="121.19" cy="200.69" r="1.95"/>
<circle class="g" cx="115.28" cy="207.19" r="1.95"/>
<circle class="g" cx="115.62" cy="191.56" r="1.95"/>
<circle class="g" cx="108.05" cy="190.4" r="1.95"/>
<circle class="g" cx="111.95" cy="191.36" r="1.95"/>
<circle class="g" cx="119.78" cy="194.58" r="1.95"/>
<circle class="g" cx="120.8" cy="193.89" r="1.95"/>
<circle class="g" cx="111.56" cy="206.94" r="1.95"/>
<circle class="g" cx="109.05" cy="210.87" r="1.95"/>
<circle class="g" cx="109.76" cy="204.64" r="1.95"/>
<circle class="g" cx="105.91" cy="211.16" r="1.95"/>
<circle class="g" cx="105.63" cy="201.17" r="1.95"/>
<circle class="g" cx="104.89" cy="202.97" r="1.95"/>
<circle class="g" cx="106.54" cy="202.04" r="1.95"/>
<circle class="g" cx="107.31" cy="208.93" r="1.95"/>
<circle class="g" cx="103.02" cy="212.91" r="1.95"/>
<circle class="g" cx="106.85" cy="203.15" r="1.95"/>
<circle class="g" cx="105.04" cy="205.32" r="1.95"/>
<circle class="g" cx="104.09" cy="201.91" r="1.95"/>
<circle class="g" cx="104.82" cy="204.35" r="1.95"/>
<circle class="g" cx="107.62" cy="209.53" r="1.95"/>
<circle class="g" cx="106.41" cy="209.21" r="1.95"/>
<circle class="g" cx="101.93" cy="211.5" r="1.95"/>
<circle class="g" cx="108.68" cy="206.74" r="1.95"/>
<circle class="g" cx="108.71" cy="202.52" r="1.95"/>
<circle class="g" cx="109.17" cy="211.28" r="1.95"/>
<circle class="g" cx="103" cy="203.99" r="1.95"/>
<circle class="g" cx="107.76" cy="208.91" r="1.95"/>
<circle class="g" cx="58.1" cy="196.2" r="1.95"/>
<circle class="g" cx="90" cy="195.7" r="1.95"/>
<circle class="g" cx="102" cy="183.7" r="1.95"/>
<circle class="g" cx="105.6" cy="169.7" r="1.95"/>
<circle class="g" cx="111" cy="173.3" r="1.95"/>
<circle class="g" cx="111.9" cy="176.5" r="1.95"/>
<circle class="g" cx="104.7" cy="190.3" r="1.95"/>
<circle class="g" cx="124.2" cy="159.9" r="1.95"/>
<circle class="g" cx="111.6" cy="172.4" r="1.95"/>
<circle class="g" cx="110.8" cy="175.1" r="1.95"/>
<circle class="g" cx="122.4" cy="177.2" r="1.95"/>
<circle class="g" cx="133.7" cy="175.1" r="1.95"/>
<circle class="g" cx="102.7" cy="184" r="1.95"/>
<circle class="g" cx="173.5" cy="187.6" r="1.95"/>
<circle class="g" cx="147" cy="197.5" r="1.95"/>
<circle class="g" cx="79.2" cy="204" r="1.95"/>
<circle class="g" cx="85.3" cy="205.3" r="1.95"/>
<circle class="g" cx="102.9" cy="209.8" r="1.95"/>
<circle class="g" cx="104.7" cy="215.1" r="1.95"/>
<circle class="g" cx="111.9" cy="222.3" r="1.95"/>
<circle class="g" cx="108.3" cy="236.6" r="1.95"/>
<circle class="g" cx="114.5" cy="240.2" r="1.95"/>
<circle class="g" cx="129.6" cy="212.4" r="1.95"/>
<circle class="g" cx="115.2" cy="241.1" r="1.95"/>
<circle class="g" cx="118.8" cy="239.3" r="1.95"/>
<circle class="g" cx="111.6" cy="217.8" r="1.95"/>
<circle class="g" cx="105.4" cy="216" r="1.95"/>
<circle class="g" cx="132.3" cy="235.7" r="1.95"/>
<circle class="g" cx="147.5" cy="199" r="1.95"/>
<circle class="n" cx="115.4" cy="203.9" r="1.5"/>
<circle class="n" cx="116.8" cy="204.9" r="1.5"/>
<circle class="n" cx="116.6" cy="203.8" r="1.5"/>
<circle class="n" cx="113.8" cy="203.9" r="1.5"/>
<circle class="n" cx="115.2" cy="204.9" r="1.5"/>
<circle class="n" cx="115" cy="203.8" r="1.5"/>
<line x1="30.81" y1="228.5" x2="33" y2="228.5" stroke="#333" stroke-width="0.85"/>
<text x="29.1" y="231.4" font-size="7" fill="#4D4D4D" stroke="#4D4D4D" stroke-width="0.1" text-anchor="end">-10</text>
<line x1="30.81" y1="199.75" x2="33" y2="199.75" stroke="#333" stroke-width="0.85"/>
<text x="29.1" y="202.65" font-size="7" fill="#4D4D4D" stroke="#4D4D4D" stroke-width="0.1" text-anchor="end">0</text>
<line x1="30.81" y1="171" x2="33" y2="171" stroke="#333" stroke-width="0.85"/>
<text x="29.1" y="173.9" font-size="7" fill="#4D4D4D" stroke="#4D4D4D" stroke-width="0.1" text-anchor="end">10</text>
<line x1="58.7" y1="248.45" x2="58.7" y2="250.64" stroke="#333" stroke-width="0.85"/>
<text x="58.7" y="257.65" font-size="7" fill="#4D4D4D" stroke="#4D4D4D" stroke-width="0.1" text-anchor="middle">-20</text>
<line x1="87.3" y1="248.45" x2="87.3" y2="250.64" stroke="#333" stroke-width="0.85"/>
<text x="87.3" y="257.65" font-size="7" fill="#4D4D4D" stroke="#4D4D4D" stroke-width="0.1" text-anchor="middle">-10</text>
<line x1="115.9" y1="248.45" x2="115.9" y2="250.64" stroke="#333" stroke-width="0.85"/>
<text x="115.9" y="257.65" font-size="7" fill="#4D4D4D" stroke="#4D4D4D" stroke-width="0.1" text-anchor="middle">0</text>
<line x1="144.5" y1="248.45" x2="144.5" y2="250.64" stroke="#333" stroke-width="0.85"/>
<text x="144.5" y="257.65" font-size="7" fill="#4D4D4D" stroke="#4D4D4D" stroke-width="0.1" text-anchor="middle">10</text>
<line x1="173.1" y1="248.45" x2="173.1" y2="250.64" stroke="#333" stroke-width="0.85"/>
<text x="173.1" y="257.65" font-size="7" fill="#4D4D4D" stroke="#4D4D4D" stroke-width="0.1" text-anchor="middle">20</text>
<rect x="203.46" y="137" width="166.09" height="13.1" fill="#D9D9D9"/>
<text x="286.5" y="146.5" font-size="7" fill="#1A1A1A" text-anchor="middle">pnl43.png</text>
<rect x="203.46" y="150.1" width="166.09" height="98.35" fill="#EBEBEB"/>
<line x1="214.9" y1="150.1" x2="214.9" y2="248.45" stroke="#fff" stroke-width="0.45"/>
<line x1="243.5" y1="150.1" x2="243.5" y2="248.45" stroke="#fff" stroke-width="0.45"/>
<line x1="272.1" y1="150.1" x2="272.1" y2="248.45" stroke="#fff" stroke-width="0.45"/>
<line x1="300.7" y1="150.1" x2="300.7" y2="248.45" stroke="#fff" stroke-width="0.45"/>
<line x1="329.3" y1="150.1" x2="329.3" y2="248.45" stroke="#fff" stroke-width="0.45"/>
<line x1="357.9" y1="150.1" x2="357.9" y2="248.45" stroke="#fff" stroke-width="0.45"/>
<line x1="203.46" y1="242.88" x2="369.55" y2="242.88" stroke="#fff" stroke-width="0.45"/>
<line x1="203.46" y1="214.12" x2="369.55" y2="214.12" stroke="#fff" stroke-width="0.45"/>
<line x1="203.46" y1="185.38" x2="369.55" y2="185.38" stroke="#fff" stroke-width="0.45"/>
<line x1="203.46" y1="156.62" x2="369.55" y2="156.62" stroke="#fff" stroke-width="0.45"/>
<line x1="229.2" y1="150.1" x2="229.2" y2="248.45" stroke="#fff" stroke-width="0.9"/>
<line x1="257.8" y1="150.1" x2="257.8" y2="248.45" stroke="#fff" stroke-width="0.9"/>
<line x1="286.4" y1="150.1" x2="286.4" y2="248.45" stroke="#fff" stroke-width="0.9"/>
<line x1="315" y1="150.1" x2="315" y2="248.45" stroke="#fff" stroke-width="0.9"/>
<line x1="343.6" y1="150.1" x2="343.6" y2="248.45" stroke="#fff" stroke-width="0.9"/>
<line x1="203.46" y1="228.5" x2="369.55" y2="228.5" stroke="#fff" stroke-width="0.9"/>
<line x1="203.46" y1="199.75" x2="369.55" y2="199.75" stroke="#fff" stroke-width="0.9"/>
<line x1="203.46" y1="171" x2="369.55" y2="171" stroke="#fff" stroke-width="0.9"/>
<line x1="213.01" y1="230.31" x2="359.79" y2="169.19" stroke="#1A1A1A" stroke-width="1.1"/>
<line x1="213.01" y1="169.19" x2="359.79" y2="230.31" stroke="#1A1A1A" stroke-width="1.1"/>
<line x1="268.99" y1="242.01" x2="303.81" y2="157.49" stroke="#1A1A1A" stroke-width="1.1"/>
<line x1="268.99" y1="157.49" x2="303.81" y2="242.01" stroke="#1A1A1A" stroke-width="1.1"/>
<circle class="b" cx="281.11" cy="194.19" r="2.23"/>
<circle class="b" cx="295.34" cy="197.03" r="2.23"/>
<circle class="b" cx="294.6" cy="196.06" r="2.23"/>
<circle class="b" cx="292.5" cy="201.62" r="2.23"/>
<circle class="b" cx="294.19" cy="207.32" r="2.23"/>
<circle class="b" cx="283.31" cy="201.3" r="2.23"/>
<circle class="b" cx="280.41" cy="196.87" r="2.23"/>
<circle class="b" cx="287.24" cy="201.73" r="2.23"/>
<circle class="b" cx="291.71" cy="208.61" r="2.23"/>
<circle class="b" cx="292.74" cy="208.02" r="2.23"/>
<circle class="b" cx="285.07" cy="198.57" r="2.23"/>
<circle class="b" cx="287.29" cy="200.16" r="2.23"/>
<circle class="b" cx="287.98" cy="205.42" r="2.23"/>
<circle class="b" cx="292.22" cy="199.08" r="2.23"/>
<circle class="b" cx="283.78" cy="193.24" r="2.23"/>
<circle class="b" cx="295.13" cy="198.59" r="2.23"/>
<circle class="b" cx="284.15" cy="210.41" r="2.23"/>
<circle class="b" cx="285.06" cy="203.04" r="2.23"/>
<circle class="b" cx="290.5" cy="202.17" r="2.23"/>
<circle class="b" cx="282.62" cy="196.86" r="2.23"/>
<circle class="b" cx="294.52" cy="200.68" r="2.23"/>
<circle class="b" cx="284.86" cy="206.45" r="2.23"/>
<circle class="b" cx="278.02" cy="201.7" r="2.23"/>
<circle class="b" cx="284.7" cy="206.27" r="2.23"/>
<circle class="b" cx="294.86" cy="203.74" r="2.23"/>
<circle class="b" cx="287.32" cy="199.06" r="2.23"/>
<circle class="b" cx="281.67" cy="197.35" r="2.23"/>
<circle class="b" cx="288.54" cy="200.6" r="2.23"/>
<circle class="b" cx="291.09" cy="199.2" r="2.23"/>
<circle class="b" cx="287.16" cy="195.63" r="2.23"/>
<circle class="b" cx="283.41" cy="205.61" r="2.23"/>
<circle class="b" cx="288.16" cy="192.63" r="2.23"/>
<circle class="b" cx="293.46" cy="206.24" r="2.23"/>
<circle class="b" cx="292.68" cy="192.92" r="2.23"/>
<circle class="b" cx="288.8" cy="199.8" r="2.23"/>
<circle class="b" cx="290.84" cy="203.22" r="2.23"/>
<circle class="b" cx="293.8" cy="196.27" r="2.23"/>
<circle class="b" cx="292.18" cy="197.56" r="2.23"/>
<circle class="b" cx="282.85" cy="199.17" r="2.23"/>
<circle class="b" cx="289.48" cy="206.06" r="2.23"/>
<circle class="b" cx="288.66" cy="202.98" r="2.23"/>
<circle class="b" cx="290.83" cy="201.83" r="2.23"/>
<circle class="b" cx="283.94" cy="202.76" r="2.23"/>
<circle class="b" cx="290.55" cy="192.98" r="2.23"/>
<circle class="b" cx="281.05" cy="204.01" r="2.23"/>
<circle class="b" cx="285.19" cy="200.58" r="2.23"/>
<circle class="b" cx="293.24" cy="207.87" r="2.23"/>
<circle class="b" cx="288.88" cy="192.01" r="2.23"/>
<circle class="b" cx="284.01" cy="201.94" r="2.23"/>
<circle class="b" cx="281.8" cy="202.23" r="2.23"/>
<circle class="b" cx="292.43" cy="199.59" r="2.23"/>
<circle class="b" cx="286.1" cy="192.88" r="2.23"/>
<circle class="b" cx="285.24" cy="207.86" r="2.23"/>
<circle class="b" cx="284.68" cy="202.26" r="2.23"/>
<circle class="b" cx="293.12" cy="200.01" r="2.23"/>
<circle class="b" cx="282.45" cy="200.52" r="2.23"/>
<circle class="b" cx="286.58" cy="203.75" r="2.23"/>
<circle class="b" cx="292.95" cy="193.3" r="2.23"/>
<circle class="b" cx="281.35" cy="207.89" r="2.23"/>
<circle class="b" cx="284" cy="191.4" r="2.23"/>
<circle class="b" cx="287.49" cy="191.55" r="2.23"/>
<circle class="b" cx="281.9" cy="207" r="2.23"/>
<circle class="b" cx="281.72" cy="201.02" r="2.23"/>
<circle class="b" cx="283.82" cy="191.51" r="2.23"/>
<circle class="b" cx="279.95" cy="196.2" r="2.23"/>
<circle class="b" cx="285.97" cy="200.16" r="2.23"/>
<circle class="b" cx="286.97" cy="208.71" r="2.23"/>
<circle class="b" cx="289.77" cy="193.66" r="2.23"/>
<circle class="b" cx="289.37" cy="192.04" r="2.23"/>
<circle class="b" cx="282.85" cy="206.96" r="2.23"/>
<circle class="b" cx="291.05" cy="192.17" r="2.23"/>
<circle class="b" cx="290.26" cy="195.07" r="2.23"/>
<circle class="b" cx="292.22" cy="194.37" r="2.23"/>
<circle class="b" cx="279.92" cy="199.05" r="2.23"/>
<circle class="b" cx="285.43" cy="191.52" r="2.23"/>
<circle class="b" cx="286.62" cy="197.15" r="2.23"/>
<circle class="b" cx="279.28" cy="195.77" r="2.23"/>
<circle class="b" cx="279.83" cy="204.78" r="2.23"/>
<circle class="b" cx="280.85" cy="193.84" r="2.23"/>
<circle class="b" cx="285.53" cy="191.87" r="2.23"/>
<circle class="b" cx="287.89" cy="202.04" r="2.23"/>
<circle class="b" cx="280.24" cy="203.38" r="2.23"/>
<circle class="b" cx="285.17" cy="195.76" r="2.23"/>
<circle class="b" cx="294.67" cy="202.77" r="2.23"/>
<circle class="b" cx="283.48" cy="201.2" r="2.23"/>
<circle class="b" cx="288.55" cy="202.4" r="2.23"/>
<circle class="b" cx="289.35" cy="206.13" r="2.23"/>
<circle class="b" cx="287.47" cy="201.89" r="2.23"/>
<circle class="b" cx="282.02" cy="205.63" r="2.23"/>
<circle class="b" cx="280.4" cy="195.88" r="2.23"/>
<circle class="b" cx="286.79" cy="200.66" r="2.23"/>
<circle class="b" cx="282.54" cy="203.61" r="2.23"/>
<circle class="b" cx="294.07" cy="207.37" r="2.23"/>
<circle class="b" cx="292.96" cy="202.01" r="2.23"/>
<circle class="b" cx="293.48" cy="205.34" r="2.23"/>
<circle class="b" cx="282.63" cy="199.1" r="2.23"/>
<circle class="b" cx="294.36" cy="198.33" r="2.23"/>
<circle class="b" cx="279.1" cy="205.34" r="2.23"/>
<circle class="b" cx="289.76" cy="193.22" r="2.23"/>
<circle class="b" cx="290.81" cy="205.71" r="2.23"/>
<circle class="b" cx="279.89" cy="197.18" r="2.23"/>
<circle class="b" cx="282.37" cy="207.41" r="2.23"/>
<circle class="b" cx="296.45" cy="200.56" r="2.23"/>
<circle class="b" cx="292.03" cy="204.96" r="2.23"/>
<circle class="b" cx="291.97" cy="207.17" r="2.23"/>
<circle class="b" cx="293.15" cy="194.99" r="2.23"/>
<circle class="b" cx="283.22" cy="204.61" r="2.23"/>
<circle class="b" cx="285.77" cy="205.56" r="2.23"/>
<circle class="b" cx="294.45" cy="202.87" r="2.23"/>
<circle class="b" cx="296.81" cy="208.75" r="2.23"/>
<circle class="b" cx="297.3" cy="198.84" r="2.23"/>
<circle class="b" cx="299.56" cy="202.99" r="2.23"/>
<circle class="b" cx="292.46" cy="206.33" r="2.23"/>
<circle class="b" cx="293.37" cy="199.87" r="2.23"/>
<circle class="b" cx="294.41" cy="207.07" r="2.23"/>
<circle class="b" cx="297.92" cy="197.75" r="2.23"/>
<circle class="b" cx="294.63" cy="200.28" r="2.23"/>
<circle class="b" cx="291.23" cy="204.06" r="2.23"/>
<circle class="g" cx="281.11" cy="194.19" r="1.95"/>
<circle class="g" cx="295.34" cy="197.03" r="1.95"/>
<circle class="g" cx="294.6" cy="196.06" r="1.95"/>
<circle class="g" cx="292.5" cy="201.62" r="1.95"/>
<circle class="g" cx="281.24" cy="191.9" r="1.95"/>
<circle class="g" cx="294.19" cy="207.32" r="1.95"/>
<circle class="g" cx="283.31" cy="201.3" r="1.95"/>
<circle class="g" cx="280.41" cy="196.87" r="1.95"/>
<circle class="g" cx="287.24" cy="201.73" r="1.95"/>
<circle class="g" cx="284.95" cy="212.54" r="1.95"/>
<circle class="g" cx="291.71" cy="208.61" r="1.95"/>
<circle class="g" cx="292.74" cy="208.02" r="1.95"/>
<circle class="g" cx="285.07" cy="198.57" r="1.95"/>
<circle class="g" cx="287.29" cy="200.16" r="1.95"/>
<circle class="g" cx="287.98" cy="205.42" r="1.95"/>
<circle class="g" cx="297.08" cy="199.27" r="1.95"/>
<circle class="g" cx="292.22" cy="199.08" r="1.95"/>
<circle class="g" cx="283.78" cy="193.24" r="1.95"/>
<circle class="g" cx="290.33" cy="213.06" r="1.95"/>
<circle class="g" cx="295.13" cy="198.59" r="1.95"/>
<circle class="g" cx="284.15" cy="210.41" r="1.95"/>
<circle class="g" cx="285.06" cy="203.04" r="1.95"/>
<circle class="g" cx="290.5" cy="202.17" r="1.95"/>
<circle class="g" cx="282.62" cy="196.86" r="1.95"/>
<circle class="g" cx="294.52" cy="200.68" r="1.95"/>
<circle class="g" cx="284.86" cy="206.45" r="1.95"/>
<circle class="g" cx="278.02" cy="201.7" r="1.95"/>
<circle class="g" cx="284.7" cy="206.27" r="1.95"/>
<circle class="g" cx="294.86" cy="203.74" r="1.95"/>
<circle class="g" cx="296.77" cy="202.06" r="1.95"/>
<circle class="g" cx="286.99" cy="189.88" r="1.95"/>
<circle class="g" cx="287.32" cy="199.06" r="1.95"/>
<circle class="g" cx="281.67" cy="197.35" r="1.95"/>
<circle class="g" cx="288.54" cy="200.6" r="1.95"/>
<circle class="g" cx="291.09" cy="199.2" r="1.95"/>
<circle class="g" cx="287.16" cy="195.63" r="1.95"/>
<circle class="g" cx="297.79" cy="194.89" r="1.95"/>
<circle class="g" cx="283.41" cy="205.61" r="1.95"/>
<circle class="g" cx="288.16" cy="192.63" r="1.95"/>
<circle class="g" cx="293.46" cy="206.24" r="1.95"/>
<circle class="g" cx="292.68" cy="192.92" r="1.95"/>
<circle class="g" cx="288.8" cy="199.8" r="1.95"/>
<circle class="g" cx="290.84" cy="203.22" r="1.95"/>
<circle class="g" cx="293.8" cy="196.27" r="1.95"/>
<circle class="g" cx="292.18" cy="197.56" r="1.95"/>
<circle class="g" cx="282.85" cy="199.17" r="1.95"/>
<circle class="g" cx="289.48" cy="206.06" r="1.95"/>
<circle class="g" cx="288.66" cy="202.98" r="1.95"/>
<circle class="g" cx="280.69" cy="183.24" r="1.95"/>
<circle class="g" cx="290.83" cy="201.83" r="1.95"/>
<circle class="g" cx="277.29" cy="198.21" r="1.95"/>
<circle class="g" cx="283.94" cy="202.76" r="1.95"/>
<circle class="g" cx="290.55" cy="192.98" r="1.95"/>
<circle class="g" cx="281.05" cy="204.01" r="1.95"/>
<circle class="g" cx="297.46" cy="204.7" r="1.95"/>
<circle class="g" cx="285.19" cy="200.58" r="1.95"/>
<circle class="g" cx="293.24" cy="207.87" r="1.95"/>
<circle class="g" cx="285.59" cy="187.14" r="1.95"/>
<circle class="g" cx="288.88" cy="192.01" r="1.95"/>
<circle class="g" cx="284.01" cy="201.94" r="1.95"/>
<circle class="g" cx="292.71" cy="209.06" r="1.95"/>
<circle class="g" cx="281.8" cy="202.23" r="1.95"/>
<circle class="g" cx="292.99" cy="191.7" r="1.95"/>
<circle class="g" cx="292.43" cy="199.59" r="1.95"/>
<circle class="g" cx="286.1" cy="192.88" r="1.95"/>
<circle class="g" cx="285.24" cy="207.86" r="1.95"/>
<circle class="g" cx="284.68" cy="202.26" r="1.95"/>
<circle class="g" cx="293.12" cy="200.01" r="1.95"/>
<circle class="g" cx="280.16" cy="192.79" r="1.95"/>
<circle class="g" cx="282.45" cy="200.52" r="1.95"/>
<circle class="g" cx="286.58" cy="203.75" r="1.95"/>
<circle class="g" cx="292.95" cy="193.3" r="1.95"/>
<circle class="g" cx="281.35" cy="207.89" r="1.95"/>
<circle class="g" cx="284" cy="191.4" r="1.95"/>
<circle class="g" cx="287.49" cy="191.55" r="1.95"/>
<circle class="g" cx="281.9" cy="207" r="1.95"/>
<circle class="g" cx="281.72" cy="201.02" r="1.95"/>
<circle class="g" cx="283.82" cy="191.51" r="1.95"/>
<circle class="g" cx="283.72" cy="213.27" r="1.95"/>
<circle class="g" cx="279.95" cy="196.2" r="1.95"/>
<circle class="g" cx="285.97" cy="200.16" r="1.95"/>
<circle class="g" cx="286.97" cy="208.71" r="1.95"/>
<circle class="g" cx="289.77" cy="193.66" r="1.95"/>
<circle class="g" cx="289.37" cy="192.04" r="1.95"/>
<circle class="g" cx="282.85" cy="206.96" r="1.95"/>
<circle class="g" cx="291.05" cy="192.17" r="1.95"/>
<circle class="g" cx="290.26" cy="195.07" r="1.95"/>
<circle class="g" cx="292.22" cy="194.37" r="1.95"/>
<circle class="g" cx="296.51" cy="197.57" r="1.95"/>
<circle class="g" cx="279.92" cy="199.05" r="1.95"/>
<circle class="g" cx="291.78" cy="209.55" r="1.95"/>
<circle class="g" cx="277.42" cy="202.02" r="1.95"/>
<circle class="g" cx="285.43" cy="191.52" r="1.95"/>
<circle class="g" cx="286.62" cy="197.15" r="1.95"/>
<circle class="g" cx="279.28" cy="195.77" r="1.95"/>
<circle class="g" cx="279.83" cy="204.78" r="1.95"/>
<circle class="g" cx="280.85" cy="193.84" r="1.95"/>
<circle class="g" cx="285.53" cy="191.87" r="1.95"/>
<circle class="g" cx="287.89" cy="202.04" r="1.95"/>
<circle class="g" cx="280.24" cy="203.38" r="1.95"/>
<circle class="g" cx="285.17" cy="195.76" r="1.95"/>
<circle class="g" cx="294.67" cy="202.77" r="1.95"/>
<circle class="g" cx="283.48" cy="201.2" r="1.95"/>
<circle class="g" cx="288.55" cy="202.4" r="1.95"/>
<circle class="g" cx="289.35" cy="206.13" r="1.95"/>
<circle class="g" cx="287.47" cy="201.89" r="1.95"/>
<circle class="g" cx="282.02" cy="205.63" r="1.95"/>
<circle class="g" cx="280.4" cy="195.88" r="1.95"/>
<circle class="g" cx="287.82" cy="212.35" r="1.95"/>
<circle class="g" cx="286.79" cy="200.66" r="1.95"/>
<circle class="n" cx="280.4" cy="189.1" r="1.5"/>
<circle class="n" cx="286.3" cy="184.6" r="1.5"/>
<circle class="n" cx="279.6" cy="192" r="1.5"/>
<circle class="n" cx="279.2" cy="195" r="1.5"/>
<circle class="n" cx="279.5" cy="198.5" r="1.5"/>
<circle class="n" cx="280.3" cy="201.5" r="1.5"/>
<circle class="n" cx="282.5" cy="204.5" r="1.5"/>
<circle class="n" cx="284.5" cy="207" r="1.5"/>
<circle class="n" cx="287" cy="208.5" r="1.5"/>
<circle class="n" cx="289.5" cy="207.5" r="1.5"/>
<circle class="n" cx="291" cy="204" r="1.5"/>
<circle class="n" cx="291.5" cy="200.5" r="1.5"/>
<circle class="n" cx="290.5" cy="197" r="1.5"/>
<circle class="n" cx="282" cy="206" r="1.5"/>
<circle class="n" cx="281" cy="203" r="1.5"/>
<circle class="n" cx="283" cy="209" r="1.5"/>
<circle class="n" cx="286" cy="209.5" r="1.5"/>
<circle class="n" cx="289" cy="209" r="1.5"/>
<circle class="n" cx="290.5" cy="206" r="1.5"/>
<circle class="n" cx="283.5" cy="205.5" r="1.5"/>
<circle class="n" cx="286" cy="206" r="1.5"/>
<circle class="n" cx="288.5" cy="205.5" r="1.5"/>
<circle class="n" cx="285" cy="208" r="1.5"/>
<circle class="n" cx="288" cy="208" r="1.5"/>
<circle class="n" cx="278.8" cy="190" r="1.5"/>
<circle class="n" cx="279" cy="194" r="1.5"/>
<circle class="n" cx="279.3" cy="197.5" r="1.5"/>
<circle class="n" cx="279.5" cy="201" r="1.5"/>
<circle class="g" cx="282.54" cy="203.61" r="1.95"/>
<circle class="g" cx="294.07" cy="207.37" r="1.95"/>
<circle class="g" cx="292.96" cy="202.01" r="1.95"/>
<circle class="g" cx="293.48" cy="205.34" r="1.95"/>
<circle class="g" cx="282.63" cy="199.1" r="1.95"/>
<circle class="g" cx="294.36" cy="198.33" r="1.95"/>
<circle class="g" cx="279.1" cy="205.34" r="1.95"/>
<circle class="g" cx="289.76" cy="193.22" r="1.95"/>
<circle class="g" cx="290.81" cy="205.71" r="1.95"/>
<circle class="g" cx="279.89" cy="197.18" r="1.95"/>
<circle class="g" cx="299.65" cy="196.67" r="1.95"/>
<circle class="g" cx="282.37" cy="207.41" r="1.95"/>
<circle class="g" cx="296.45" cy="200.56" r="1.95"/>
<circle class="g" cx="292.03" cy="204.96" r="1.95"/>
<circle class="g" cx="291.97" cy="207.17" r="1.95"/>
<circle class="g" cx="293.15" cy="194.99" r="1.95"/>
<circle class="g" cx="283.22" cy="204.61" r="1.95"/>
<circle class="g" cx="285.77" cy="205.56" r="1.95"/>
<circle class="g" cx="279.82" cy="207.94" r="1.95"/>
<circle class="g" cx="297.74" cy="197.56" r="1.95"/>
<circle class="g" cx="294.45" cy="202.87" r="1.95"/>
<circle class="g" cx="296.81" cy="208.75" r="1.95"/>
<circle class="g" cx="299.93" cy="203.84" r="1.95"/>
<circle class="g" cx="297.3" cy="198.84" r="1.95"/>
<circle class="g" cx="299.56" cy="202.99" r="1.95"/>
<circle class="g" cx="292.46" cy="206.33" r="1.95"/>
<circle class="g" cx="293.37" cy="199.87" r="1.95"/>
<circle class="g" cx="294.41" cy="207.07" r="1.95"/>
<circle class="g" cx="297.92" cy="197.75" r="1.95"/>
<circle class="g" cx="294.63" cy="200.28" r="1.95"/>
<circle class="g" cx="288.24" cy="202.45" r="1.95"/>
<circle class="g" cx="291.23" cy="204.06" r="1.95"/>
<circle class="g" cx="272" cy="198.4" r="1.95"/>
<circle class="g" cx="296" cy="187.6" r="1.95"/>
<circle class="g" cx="305" cy="195.7" r="1.95"/>
<circle class="g" cx="213.4" cy="202.2" r="1.95"/>
<circle class="g" cx="266.6" cy="205.3" r="1.95"/>
<circle class="g" cx="274.7" cy="207.1" r="1.95"/>
<circle class="g" cx="275.6" cy="213.3" r="1.95"/>
<circle class="g" cx="285.4" cy="220.5" r="1.95"/>
<circle class="g" cx="304.9" cy="202.6" r="1.95"/>
<circle class="g" cx="313" cy="203.5" r="1.95"/>
<circle class="g" cx="287" cy="218.7" r="1.95"/>
<circle class="g" cx="287.9" cy="221.4" r="1.95"/>
<circle class="g" cx="284.3" cy="216.9" r="1.95"/>
<circle class="g" cx="299.6" cy="223.7" r="1.95"/>
<circle class="g" cx="304" cy="227.7" r="1.95"/>
<circle class="g" cx="356.5" cy="219.5" r="1.95"/>
<circle class="g" cx="360.5" cy="218.5" r="1.95"/>
<circle class="g" cx="359" cy="223.5" r="1.95"/>
<circle class="g" cx="267" cy="205" r="1.95"/>
<circle class="g" cx="272" cy="203" r="1.95"/>
<line x1="229.2" y1="248.45" x2="229.2" y2="250.64" stroke="#333" stroke-width="0.85"/>
<text x="229.2" y="257.65" font-size="7" fill="#4D4D4D" stroke="#4D4D4D" stroke-width="0.1" text-anchor="middle">-20</text>
<line x1="257.8" y1="248.45" x2="257.8" y2="250.64" stroke="#333" stroke-width="0.85"/>
<text x="257.8" y="257.65" font-size="7" fill="#4D4D4D" stroke="#4D4D4D" stroke-width="0.1" text-anchor="middle">-10</text>
<line x1="286.4" y1="248.45" x2="286.4" y2="250.64" stroke="#333" stroke-width="0.85"/>
<text x="286.4" y="257.65" font-size="7" fill="#4D4D4D" stroke="#4D4D4D" stroke-width="0.1" text-anchor="middle">0</text>
<line x1="315" y1="248.45" x2="315" y2="250.64" stroke="#333" stroke-width="0.85"/>
<text x="315" y="257.65" font-size="7" fill="#4D4D4D" stroke="#4D4D4D" stroke-width="0.1" text-anchor="middle">10</text>
<line x1="343.6" y1="248.45" x2="343.6" y2="250.64" stroke="#333" stroke-width="0.85"/>
<text x="343.6" y="257.65" font-size="7" fill="#4D4D4D" stroke="#4D4D4D" stroke-width="0.1" text-anchor="middle">20</text>
<rect x="373.92" y="137" width="166.09" height="13.1" fill="#D9D9D9"/>
<text x="456.97" y="146.5" font-size="7" fill="#1A1A1A" text-anchor="middle">pnl57.png</text>
<rect x="373.92" y="150.1" width="166.09" height="98.35" fill="#EBEBEB"/>
<line x1="385.72" y1="150.1" x2="385.72" y2="248.45" stroke="#fff" stroke-width="0.45"/>
<line x1="414.32" y1="150.1" x2="414.32" y2="248.45" stroke="#fff" stroke-width="0.45"/>
<line x1="442.92" y1="150.1" x2="442.92" y2="248.45" stroke="#fff" stroke-width="0.45"/>
<line x1="471.52" y1="150.1" x2="471.52" y2="248.45" stroke="#fff" stroke-width="0.45"/>
<line x1="500.12" y1="150.1" x2="500.12" y2="248.45" stroke="#fff" stroke-width="0.45"/>
<line x1="528.72" y1="150.1" x2="528.72" y2="248.45" stroke="#fff" stroke-width="0.45"/>
<line x1="373.92" y1="242.88" x2="540.01" y2="242.88" stroke="#fff" stroke-width="0.45"/>
<line x1="373.92" y1="214.12" x2="540.01" y2="214.12" stroke="#fff" stroke-width="0.45"/>
<line x1="373.92" y1="185.38" x2="540.01" y2="185.38" stroke="#fff" stroke-width="0.45"/>
<line x1="373.92" y1="156.62" x2="540.01" y2="156.62" stroke="#fff" stroke-width="0.45"/>
<line x1="400.02" y1="150.1" x2="400.02" y2="248.45" stroke="#fff" stroke-width="0.9"/>
<line x1="428.62" y1="150.1" x2="428.62" y2="248.45" stroke="#fff" stroke-width="0.9"/>
<line x1="457.22" y1="150.1" x2="457.22" y2="248.45" stroke="#fff" stroke-width="0.9"/>
<line x1="485.82" y1="150.1" x2="485.82" y2="248.45" stroke="#fff" stroke-width="0.9"/>
<line x1="514.42" y1="150.1" x2="514.42" y2="248.45" stroke="#fff" stroke-width="0.9"/>
<line x1="373.92" y1="228.5" x2="540.01" y2="228.5" stroke="#fff" stroke-width="0.9"/>
<line x1="373.92" y1="199.75" x2="540.01" y2="199.75" stroke="#fff" stroke-width="0.9"/>
<line x1="373.92" y1="171" x2="540.01" y2="171" stroke="#fff" stroke-width="0.9"/>
<line x1="383.83" y1="230.31" x2="530.61" y2="169.19" stroke="#1A1A1A" stroke-width="1.1"/>
<line x1="383.83" y1="169.19" x2="530.61" y2="230.31" stroke="#1A1A1A" stroke-width="1.1"/>
<line x1="439.81" y1="242.01" x2="474.63" y2="157.49" stroke="#1A1A1A" stroke-width="1.1"/>
<line x1="439.81" y1="157.49" x2="474.63" y2="242.01" stroke="#1A1A1A" stroke-width="1.1"/>
<circle class="b" cx="461.5" cy="187.66" r="2.23"/>
<circle class="b" cx="458.49" cy="205.14" r="2.23"/>
<circle class="b" cx="458.89" cy="197.3" r="2.23"/>
<circle class="b" cx="450.7" cy="199.23" r="2.23"/>
<circle class="b" cx="459.77" cy="190.83" r="2.23"/>
<circle class="b" cx="460.67" cy="192.06" r="2.23"/>
<circle class="b" cx="458.35" cy="191.86" r="2.23"/>
<circle class="b" cx="455.96" cy="190.15" r="2.23"/>
<circle class="b" cx="454.85" cy="195.9" r="2.23"/>
<circle class="b" cx="460.33" cy="193.44" r="2.23"/>
<circle class="b" cx="455.48" cy="188.43" r="2.23"/>
<circle class="b" cx="454.29" cy="206.18" r="2.23"/>
<circle class="b" cx="466.48" cy="202.95" r="2.23"/>
<circle class="b" cx="450.56" cy="200.83" r="2.23"/>
<circle class="b" cx="460" cy="200.68" r="2.23"/>
<circle class="b" cx="456.26" cy="194.08" r="2.23"/>
<circle class="b" cx="456.49" cy="193.42" r="2.23"/>
<circle class="b" cx="456.42" cy="189.14" r="2.23"/>
<circle class="b" cx="457.91" cy="198.92" r="2.23"/>
<circle class="b" cx="456.4" cy="205.54" r="2.23"/>
<circle class="b" cx="457.16" cy="196.23" r="2.23"/>
<circle class="b" cx="449.74" cy="195.87" r="2.23"/>
<circle class="b" cx="457.22" cy="194.29" r="2.23"/>
<circle class="b" cx="457.74" cy="200.86" r="2.23"/>
<circle class="b" cx="463.5" cy="203.34" r="2.23"/>
<circle class="b" cx="462.04" cy="193.73" r="2.23"/>
<circle class="b" cx="458.75" cy="196.67" r="2.23"/>
<circle class="b" cx="467.77" cy="198.54" r="2.23"/>
<circle class="b" cx="463.76" cy="193.91" r="2.23"/>
<circle class="b" cx="455.89" cy="194.28" r="2.23"/>
<circle class="b" cx="454.29" cy="201.83" r="2.23"/>
<circle class="b" cx="462.56" cy="197.5" r="2.23"/>
<circle class="b" cx="463.95" cy="199.41" r="2.23"/>
<circle class="b" cx="452.08" cy="203.19" r="2.23"/>
<circle class="b" cx="465.29" cy="191.74" r="2.23"/>
<circle class="b" cx="462.27" cy="191.08" r="2.23"/>
<circle class="b" cx="460.72" cy="191.14" r="2.23"/>
<circle class="b" cx="457.11" cy="190.24" r="2.23"/>
<circle class="b" cx="464.49" cy="201.12" r="2.23"/>
<circle class="b" cx="458.91" cy="193.18" r="2.23"/>
<circle class="b" cx="460.48" cy="189.99" r="2.23"/>
<circle class="b" cx="463.11" cy="198.13" r="2.23"/>
<circle class="b" cx="463.76" cy="202.64" r="2.23"/>
<circle class="b" cx="458.76" cy="204.1" r="2.23"/>
<circle class="b" cx="465.04" cy="194.25" r="2.23"/>
<circle class="b" cx="458.85" cy="203.15" r="2.23"/>
<circle class="b" cx="451.86" cy="190.82" r="2.23"/>
<circle class="b" cx="453.89" cy="198.4" r="2.23"/>
<circle class="b" cx="456.26" cy="197.91" r="2.23"/>
<circle class="b" cx="456.89" cy="203.85" r="2.23"/>
<circle class="b" cx="455.01" cy="206.34" r="2.23"/>
<circle class="b" cx="455.69" cy="205.23" r="2.23"/>
<circle class="b" cx="454.36" cy="201.3" r="2.23"/>
<circle class="b" cx="467.21" cy="193.7" r="2.23"/>
<circle class="b" cx="464.39" cy="197.73" r="2.23"/>
<circle class="b" cx="457.37" cy="198.09" r="2.23"/>
<circle class="b" cx="459.26" cy="195.61" r="2.23"/>
<circle class="b" cx="458.34" cy="193.89" r="2.23"/>
<circle class="b" cx="467.54" cy="201.38" r="2.23"/>
<circle class="b" cx="463.15" cy="195.93" r="2.23"/>
<circle class="b" cx="455.04" cy="193.73" r="2.23"/>
<circle class="b" cx="462.44" cy="188.54" r="2.23"/>
<circle class="b" cx="452.12" cy="199" r="2.23"/>
<circle class="b" cx="462.83" cy="200.57" r="2.23"/>
<circle class="b" cx="456.32" cy="194.53" r="2.23"/>
<circle class="b" cx="463.8" cy="204.25" r="2.23"/>
<circle class="b" cx="457.43" cy="195.71" r="2.23"/>
<circle class="b" cx="457.02" cy="194.67" r="2.23"/>
<circle class="b" cx="464.49" cy="193.09" r="2.23"/>
<circle class="b" cx="453.65" cy="191.3" r="2.23"/>
<circle class="b" cx="460.77" cy="194.1" r="2.23"/>
<circle class="b" cx="456.87" cy="195.35" r="2.23"/>
<circle class="b" cx="449.98" cy="200.59" r="2.23"/>
<circle class="b" cx="461.14" cy="188.64" r="2.23"/>
<circle class="b" cx="450.66" cy="200.67" r="2.23"/>
<circle class="b" cx="457.7" cy="206.06" r="2.23"/>
<circle class="b" cx="459.78" cy="194.86" r="2.23"/>
<circle class="b" cx="460.94" cy="196.65" r="2.23"/>
<circle class="b" cx="457.28" cy="207.51" r="2.23"/>
<circle class="b" cx="460.12" cy="196.84" r="2.23"/>
<circle class="b" cx="460.19" cy="194.56" r="2.23"/>
<circle class="b" cx="451.21" cy="195.56" r="2.23"/>
<circle class="b" cx="462.02" cy="198.19" r="2.23"/>
<circle class="b" cx="464.76" cy="199.65" r="2.23"/>
<circle class="b" cx="466.38" cy="194.85" r="2.23"/>
<circle class="b" cx="464.18" cy="200.52" r="2.23"/>
<circle class="b" cx="465.45" cy="203.68" r="2.23"/>
<circle class="b" cx="453.66" cy="195.71" r="2.23"/>
<circle class="b" cx="465.26" cy="201.02" r="2.23"/>
<circle class="b" cx="456.3" cy="197.12" r="2.23"/>
<circle class="b" cx="464.99" cy="198.78" r="2.23"/>
<circle class="b" cx="458.23" cy="201.68" r="2.23"/>
<circle class="b" cx="455.47" cy="195.72" r="2.23"/>
<circle class="b" cx="456.29" cy="200.02" r="2.23"/>
<circle class="b" cx="454.67" cy="195.47" r="2.23"/>
<circle class="b" cx="461.26" cy="201.6" r="2.23"/>
<circle class="b" cx="454.6" cy="195.13" r="2.23"/>
<circle class="b" cx="450.95" cy="193.41" r="2.23"/>
<circle class="b" cx="460.68" cy="202.01" r="2.23"/>
<circle class="b" cx="453.25" cy="199.96" r="2.23"/>
<circle class="b" cx="465.3" cy="197.39" r="2.23"/>
<circle class="b" cx="452.01" cy="194.95" r="2.23"/>
<circle class="b" cx="453.82" cy="190.14" r="2.23"/>
<circle class="b" cx="452.77" cy="204.6" r="2.23"/>
<circle class="b" cx="456.14" cy="194.34" r="2.23"/>
<circle class="b" cx="464.75" cy="200.05" r="2.23"/>
<circle class="b" cx="467.17" cy="199.8" r="2.23"/>
<circle class="b" cx="458.18" cy="193.89" r="2.23"/>
<circle class="b" cx="456.87" cy="200.07" r="2.23"/>
<circle class="b" cx="465.13" cy="198.88" r="2.23"/>
<circle class="b" cx="460.36" cy="207.14" r="2.23"/>
<circle class="b" cx="465.64" cy="193.62" r="2.23"/>
<circle class="b" cx="457.48" cy="203.48" r="2.23"/>
<circle class="b" cx="454.79" cy="211.06" r="2.23"/>
<circle class="b" cx="453.34" cy="209.48" r="2.23"/>
<circle class="b" cx="454.9" cy="204.25" r="2.23"/>
<circle class="b" cx="456.76" cy="212.96" r="2.23"/>
<circle class="b" cx="456.81" cy="208.67" r="2.23"/>
<circle class="b" cx="459.18" cy="211.15" r="2.23"/>
<circle class="b" cx="456.89" cy="204.99" r="2.23"/>
<circle class="b" cx="462.13" cy="206.31" r="2.23"/>
<circle class="b" cx="459.37" cy="205.81" r="2.23"/>
<circle class="b" cx="458.58" cy="203.14" r="2.23"/>
<circle class="b" cx="456.04" cy="208.31" r="2.23"/>
<circle class="b" cx="455.64" cy="213.31" r="2.23"/>
<circle class="b" cx="457.41" cy="210.97" r="2.23"/>
<circle class="b" cx="457.72" cy="204.54" r="2.23"/>
<circle class="b" cx="453.87" cy="209.92" r="2.23"/>
<circle class="b" cx="460.12" cy="209.03" r="2.23"/>
<circle class="b" cx="457.92" cy="203.88" r="2.23"/>
<circle class="b" cx="458.64" cy="210.8" r="2.23"/>
<circle class="b" cx="453.79" cy="208.94" r="2.23"/>
<circle class="b" cx="461.26" cy="210.18" r="2.23"/>
<circle class="b" cx="462.1" cy="208.49" r="2.23"/>
<circle class="b" cx="451.5" cy="208.34" r="2.23"/>
<circle class="b" cx="459.97" cy="206.06" r="2.23"/>
<circle class="g" cx="461.5" cy="187.66" r="1.95"/>
<circle class="g" cx="458.49" cy="205.14" r="1.95"/>
<circle class="g" cx="458.89" cy="197.3" r="1.95"/>
<circle class="g" cx="450.7" cy="199.23" r="1.95"/>
<circle class="g" cx="459.77" cy="190.83" r="1.95"/>
<circle class="g" cx="460.67" cy="192.06" r="1.95"/>
<circle class="g" cx="458.35" cy="191.86" r="1.95"/>
<circle class="g" cx="455.96" cy="190.15" r="1.95"/>
<circle class="g" cx="454.85" cy="195.9" r="1.95"/>
<circle class="g" cx="460.33" cy="193.44" r="1.95"/>
<circle class="g" cx="455.48" cy="188.43" r="1.95"/>
<circle class="g" cx="454.29" cy="206.18" r="1.95"/>
<circle class="g" cx="466.48" cy="202.95" r="1.95"/>
<circle class="g" cx="450.56" cy="200.83" r="1.95"/>
<circle class="g" cx="460" cy="200.68" r="1.95"/>
<circle class="g" cx="456.26" cy="194.08" r="1.95"/>
<circle class="g" cx="450.72" cy="191.83" r="1.95"/>
<circle class="g" cx="456.49" cy="193.42" r="1.95"/>
<circle class="g" cx="451.57" cy="207.33" r="1.95"/>
<circle class="g" cx="449.5" cy="196.54" r="1.95"/>
<circle class="g" cx="456.42" cy="189.14" r="1.95"/>
<circle class="g" cx="463.68" cy="183.35" r="1.95"/>
<circle class="g" cx="457.91" cy="198.92" r="1.95"/>
<circle class="g" cx="456.4" cy="205.54" r="1.95"/>
<circle class="g" cx="457.16" cy="196.23" r="1.95"/>
<circle class="g" cx="449.74" cy="195.87" r="1.95"/>
<circle class="g" cx="457.22" cy="194.29" r="1.95"/>
<circle class="g" cx="457.74" cy="200.86" r="1.95"/>
<circle class="g" cx="463.5" cy="203.34" r="1.95"/>
<circle class="g" cx="462.04" cy="193.73" r="1.95"/>
<circle class="g" cx="458.75" cy="196.67" r="1.95"/>
<circle class="g" cx="467.77" cy="198.54" r="1.95"/>
<circle class="g" cx="463.76" cy="193.91" r="1.95"/>
<circle class="g" cx="455.89" cy="194.28" r="1.95"/>
<circle class="g" cx="454.29" cy="201.83" r="1.95"/>
<circle class="g" cx="462.56" cy="197.5" r="1.95"/>
<circle class="g" cx="463.95" cy="199.41" r="1.95"/>
<circle class="g" cx="452.08" cy="203.19" r="1.95"/>
<circle class="g" cx="459.29" cy="208.39" r="1.95"/>
<circle class="g" cx="469.47" cy="195.99" r="1.95"/>
<circle class="g" cx="465.29" cy="191.74" r="1.95"/>
<circle class="g" cx="462.27" cy="191.08" r="1.95"/>
<circle class="g" cx="460.72" cy="191.14" r="1.95"/>
<circle class="g" cx="457.11" cy="190.24" r="1.95"/>
<circle class="g" cx="464.49" cy="201.12" r="1.95"/>
<circle class="g" cx="458.91" cy="193.18" r="1.95"/>
<circle class="g" cx="460.48" cy="189.99" r="1.95"/>
<circle class="g" cx="463.11" cy="198.13" r="1.95"/>
<circle class="g" cx="463.76" cy="202.64" r="1.95"/>
<circle class="g" cx="458.76" cy="204.1" r="1.95"/>
<circle class="g" cx="465.04" cy="194.25" r="1.95"/>
<circle class="g" cx="458.85" cy="203.15" r="1.95"/>
<circle class="g" cx="451.86" cy="190.82" r="1.95"/>
<circle class="g" cx="453.89" cy="198.4" r="1.95"/>
<circle class="g" cx="456.26" cy="197.91" r="1.95"/>
<circle class="g" cx="456.89" cy="203.85" r="1.95"/>
<circle class="g" cx="455.01" cy="206.34" r="1.95"/>
<circle class="g" cx="451.83" cy="185.19" r="1.95"/>
<circle class="g" cx="452.16" cy="204.92" r="1.95"/>
<circle class="g" cx="455.69" cy="205.23" r="1.95"/>
<circle class="g" cx="454.36" cy="201.3" r="1.95"/>
<circle class="g" cx="467.21" cy="193.7" r="1.95"/>
<circle class="g" cx="464.39" cy="197.73" r="1.95"/>
<circle class="g" cx="457.37" cy="198.09" r="1.95"/>
<circle class="g" cx="459.26" cy="195.61" r="1.95"/>
<circle class="g" cx="458.34" cy="193.89" r="1.95"/>
<circle class="g" cx="451.36" cy="207.4" r="1.95"/>
<circle class="g" cx="467.54" cy="201.38" r="1.95"/>
<circle class="g" cx="463.15" cy="195.93" r="1.95"/>
<circle class="g" cx="455.04" cy="193.73" r="1.95"/>
<circle class="g" cx="462.44" cy="188.54" r="1.95"/>
<circle class="g" cx="452.12" cy="199" r="1.95"/>
<circle class="g" cx="462.83" cy="200.57" r="1.95"/>
<circle class="g" cx="456.32" cy="194.53" r="1.95"/>
<circle class="g" cx="463.8" cy="204.25" r="1.95"/>
<circle class="g" cx="457.43" cy="195.71" r="1.95"/>
<circle class="g" cx="457.02" cy="194.67" r="1.95"/>
<circle class="g" cx="464.49" cy="193.09" r="1.95"/>
<circle class="g" cx="453.65" cy="191.3" r="1.95"/>
<circle class="g" cx="460.77" cy="194.1" r="1.95"/>
<circle class="g" cx="456.87" cy="195.35" r="1.95"/>
<circle class="g" cx="468.27" cy="191.16" r="1.95"/>
<circle class="g" cx="449.98" cy="200.59" r="1.95"/>
<circle class="g" cx="461.14" cy="188.64" r="1.95"/>
<circle class="g" cx="466.81" cy="207.5" r="1.95"/>
<circle class="g" cx="450.12" cy="201.31" r="1.95"/>
<circle class="g" cx="450.66" cy="200.67" r="1.95"/>
<circle class="g" cx="457.7" cy="206.06" r="1.95"/>
<circle class="g" cx="459.78" cy="194.86" r="1.95"/>
<circle class="g" cx="456.78" cy="208.1" r="1.95"/>
<circle class="g" cx="460.94" cy="196.65" r="1.95"/>
<circle class="g" cx="457.28" cy="207.51" r="1.95"/>
<circle class="g" cx="450.09" cy="202.06" r="1.95"/>
<circle class="g" cx="460.12" cy="196.84" r="1.95"/>
<circle class="g" cx="460.19" cy="194.56" r="1.95"/>
<circle class="g" cx="451.21" cy="195.56" r="1.95"/>
<circle class="g" cx="462.02" cy="198.19" r="1.95"/>
<circle class="g" cx="464.76" cy="199.65" r="1.95"/>
<circle class="g" cx="459.95" cy="186.59" r="1.95"/>
<circle class="g" cx="466.38" cy="194.85" r="1.95"/>
<circle class="g" cx="464.18" cy="200.52" r="1.95"/>
<circle class="g" cx="465.45" cy="203.68" r="1.95"/>
<circle class="g" cx="453.66" cy="195.71" r="1.95"/>
<circle class="g" cx="465.26" cy="201.02" r="1.95"/>
<circle class="g" cx="456.3" cy="197.12" r="1.95"/>
<circle class="g" cx="464.99" cy="198.78" r="1.95"/>
<circle class="g" cx="458.23" cy="201.68" r="1.95"/>
<circle class="g" cx="455.47" cy="195.72" r="1.95"/>
<circle class="g" cx="456.29" cy="200.02" r="1.95"/>
<circle class="g" cx="454.67" cy="195.47" r="1.95"/>
<circle class="g" cx="450.66" cy="202.61" r="1.95"/>
<circle class="g" cx="461.26" cy="201.6" r="1.95"/>
<circle class="g" cx="454.6" cy="195.13" r="1.95"/>
<circle class="g" cx="450.95" cy="193.41" r="1.95"/>
<circle class="g" cx="460.68" cy="202.01" r="1.95"/>
<circle class="g" cx="453.25" cy="199.96" r="1.95"/>
<circle class="g" cx="465.3" cy="197.39" r="1.95"/>
<circle class="g" cx="452.01" cy="194.95" r="1.95"/>
<circle class="g" cx="453.82" cy="190.14" r="1.95"/>
<circle class="g" cx="452.77" cy="204.6" r="1.95"/>
<circle class="n" cx="455.5" cy="189.3" r="1.5"/>
<circle class="n" cx="451" cy="198.3" r="1.5"/>
<circle class="n" cx="460.12" cy="205.92" r="1.5"/>
<circle class="n" cx="461.8" cy="205.32" r="1.5"/>
<circle class="n" cx="463.19" cy="204.19" r="1.5"/>
<circle class="n" cx="464.12" cy="202.67" r="1.5"/>
<circle class="n" cx="464.5" cy="200.92" r="1.5"/>
<circle class="n" cx="464.27" cy="199.15" r="1.5"/>
<circle class="n" cx="463.46" cy="197.55" r="1.5"/>
<circle class="n" cx="462.17" cy="196.31" r="1.5"/>
<circle class="n" cx="460.55" cy="195.57" r="1.5"/>
<circle class="n" cx="458.77" cy="195.42" r="1.5"/>
<circle class="n" cx="457.03" cy="195.86" r="1.5"/>
<circle class="n" cx="455.55" cy="196.86" r="1.5"/>
<circle class="n" cx="454.48" cy="198.29" r="1.5"/>
<circle class="n" cx="453.95" cy="199.99" r="1.5"/>
<circle class="n" cx="454.01" cy="201.78" r="1.5"/>
<circle class="n" cx="454.67" cy="203.44" r="1.5"/>
<circle class="n" cx="455.84" cy="204.79" r="1.5"/>
<circle class="n" cx="457.39" cy="205.68" r="1.5"/>
<circle class="g" cx="452.29" cy="184.73" r="1.95"/>
<circle class="g" cx="456.14" cy="194.34" r="1.95"/>
<circle class="g" cx="464.75" cy="200.05" r="1.95"/>
<circle class="g" cx="467.17" cy="199.8" r="1.95"/>
<circle class="g" cx="458.18" cy="193.89" r="1.95"/>
<circle class="g" cx="456.87" cy="200.07" r="1.95"/>
<circle class="g" cx="465.13" cy="198.88" r="1.95"/>
<circle class="g" cx="460.36" cy="207.14" r="1.95"/>
<circle class="g" cx="465.64" cy="193.62" r="1.95"/>
<circle class="g" cx="457.48" cy="203.48" r="1.95"/>
<circle class="g" cx="454.79" cy="211.06" r="1.95"/>
<circle class="g" cx="453.34" cy="209.48" r="1.95"/>
<circle class="g" cx="454.9" cy="204.25" r="1.95"/>
<circle class="g" cx="456.76" cy="212.96" r="1.95"/>
<circle class="g" cx="456.81" cy="208.67" r="1.95"/>
<circle class="g" cx="459.18" cy="211.15" r="1.95"/>
<circle class="g" cx="456.89" cy="204.99" r="1.95"/>
<circle class="g" cx="462.13" cy="206.31" r="1.95"/>
<circle class="g" cx="459.37" cy="205.81" r="1.95"/>
<circle class="g" cx="458.58" cy="203.14" r="1.95"/>
<circle class="g" cx="456.04" cy="208.31" r="1.95"/>
<circle class="g" cx="455.64" cy="213.31" r="1.95"/>
<circle class="g" cx="457.41" cy="210.97" r="1.95"/>
<circle class="g" cx="457.72" cy="204.54" r="1.95"/>
<circle class="g" cx="453.87" cy="209.92" r="1.95"/>
<circle class="g" cx="452.45" cy="201.33" r="1.95"/>
<circle class="g" cx="460.12" cy="209.03" r="1.95"/>
<circle class="g" cx="459.94" cy="202" r="1.95"/>
<circle class="g" cx="457.92" cy="203.88" r="1.95"/>
<circle class="g" cx="458.64" cy="210.8" r="1.95"/>
<circle class="g" cx="453.79" cy="208.94" r="1.95"/>
<circle class="g" cx="461.26" cy="210.18" r="1.95"/>
<circle class="g" cx="462.1" cy="208.49" r="1.95"/>
<circle class="g" cx="451.5" cy="208.34" r="1.95"/>
<circle class="g" cx="459.97" cy="206.06" r="1.95"/>
<circle class="g" cx="493.8" cy="165.2" r="1.95"/>
<circle class="g" cx="474.4" cy="172.4" r="1.95"/>
<circle class="g" cx="490.5" cy="192.1" r="1.95"/>
<circle class="g" cx="478.5" cy="195.7" r="1.95"/>
<circle class="g" cx="472.3" cy="192.1" r="1.95"/>
<circle class="g" cx="382" cy="207.1" r="1.95"/>
<circle class="g" cx="425.9" cy="201.2" r="1.95"/>
<circle class="g" cx="426.8" cy="204.4" r="1.95"/>
<circle class="g" cx="430.3" cy="206.2" r="1.95"/>
<circle class="g" cx="439.3" cy="200.8" r="1.95"/>
<circle class="g" cx="425" cy="241.1" r="1.95"/>
<circle class="g" cx="436.6" cy="236.6" r="1.95"/>
<circle class="g" cx="426.8" cy="242" r="1.95"/>
<circle class="g" cx="455.4" cy="240.2" r="1.95"/>
<circle class="g" cx="475" cy="201.2" r="1.95"/>
<circle class="g" cx="471.4" cy="220.5" r="1.95"/>
<circle class="g" cx="457" cy="221.4" r="1.95"/>
<circle class="g" cx="491.1" cy="228" r="1.95"/>
<circle class="g" cx="460.6" cy="234.8" r="1.95"/>
<circle class="g" cx="455.2" cy="239.3" r="1.95"/>
<circle class="g" cx="461.5" cy="241.1" r="1.95"/>
<circle class="g" cx="466" cy="241.7" r="1.95"/>
<circle class="g" cx="493.4" cy="242" r="1.95"/>
<circle class="g" cx="526" cy="162.5" r="1.95"/>
<circle class="g" cx="528.5" cy="161" r="1.95"/>
<circle class="g" cx="522.5" cy="238.5" r="1.95"/>
<circle class="g" cx="525.5" cy="240.5" r="1.95"/>
<circle class="g" cx="473" cy="219.2" r="1.95"/>
<circle class="g" cx="439.6" cy="199.7" r="1.95"/>
<circle class="g" cx="445" cy="205" r="1.95"/>
<circle class="g" cx="448" cy="208" r="1.95"/>
<circle class="n" cx="475.1" cy="177.8" r="1.5"/>
<circle class="n" cx="475.9" cy="177.8" r="1.5"/>
<circle class="n" cx="501.4" cy="186.4" r="1.5"/>
<circle class="n" cx="502.2" cy="186.4" r="1.5"/>
<circle class="n" cx="467.3" cy="202.2" r="1.5"/>
<circle class="n" cx="468.1" cy="202.2" r="1.5"/>
<line x1="400.02" y1="248.45" x2="400.02" y2="250.64" stroke="#333" stroke-width="0.85"/>
<text x="400.02" y="257.65" font-size="7" fill="#4D4D4D" stroke="#4D4D4D" stroke-width="0.1" text-anchor="middle">-20</text>
<line x1="428.62" y1="248.45" x2="428.62" y2="250.64" stroke="#333" stroke-width="0.85"/>
<text x="428.62" y="257.65" font-size="7" fill="#4D4D4D" stroke="#4D4D4D" stroke-width="0.1" text-anchor="middle">-10</text>
<line x1="457.22" y1="248.45" x2="457.22" y2="250.64" stroke="#333" stroke-width="0.85"/>
<text x="457.22" y="257.65" font-size="7" fill="#4D4D4D" stroke="#4D4D4D" stroke-width="0.1" text-anchor="middle">0</text>
<line x1="485.82" y1="248.45" x2="485.82" y2="250.64" stroke="#333" stroke-width="0.85"/>
<text x="485.82" y="257.65" font-size="7" fill="#4D4D4D" stroke="#4D4D4D" stroke-width="0.1" text-anchor="middle">10</text>
<line x1="514.42" y1="248.45" x2="514.42" y2="250.64" stroke="#333" stroke-width="0.85"/>
<text x="514.42" y="257.65" font-size="7" fill="#4D4D4D" stroke="#4D4D4D" stroke-width="0.1" text-anchor="middle">20</text>
<text x="286.5" y="268.3" font-size="8.75" fill="#000" stroke="#000" stroke-width="0.15" text-anchor="middle">x gaze position (in degree of visual angle)</text>
<text transform="translate(15.2,141.6) rotate(-90)" x="0" y="0" font-size="8.82" fill="#000" stroke="#000" stroke-width="0.15" text-anchor="middle">y gaze position (in degree of visual angle)</text></svg></body></html>
